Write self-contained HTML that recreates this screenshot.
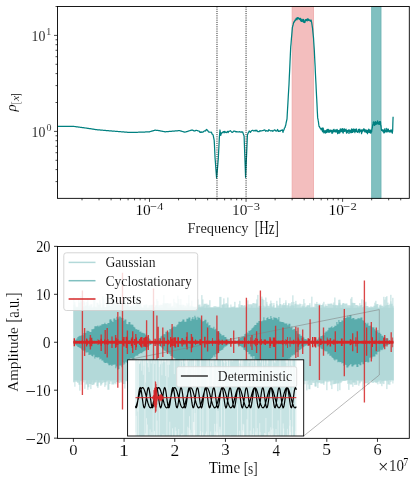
<!DOCTYPE html>
<html><head><meta charset="utf-8"><style>
html,body{margin:0;padding:0;background:#fff;}
svg{display:block;will-change:transform;}
</style></head><body>
<svg width="416" height="483" viewBox="0 0 416 483">
<rect width="416" height="483" fill="#fff"/>
<defs><clipPath id="ctop"><rect x="57.5" y="6.5" width="351.5" height="192"/></clipPath><clipPath id="cbot"><rect x="57.3" y="246.3" width="351.9" height="191.9"/></clipPath><clipPath id="cins"><rect x="127.6" y="359.8" width="176.1" height="76.2"/></clipPath></defs>
<rect x="292.12" y="6.5" width="21.42" height="192" fill="#f3bebe" stroke="#eeaaaa" stroke-width="0.8"/>
<rect x="371.66" y="6.5" width="9.36" height="192" fill="#80c0c0" stroke="#6bb3b3" stroke-width="0.8"/>
<path d="M57.50,126.40 L58.00,126.40 L58.50,126.40 L59.00,126.40 L59.50,126.40 L60.00,126.40 L60.50,126.40 L61.00,126.40 L61.50,126.40 L62.00,126.40 L62.50,126.40 L63.00,126.40 L63.50,126.40 L64.00,126.40 L64.50,126.40 L65.00,126.40 L65.50,126.40 L66.00,126.40 L66.50,126.40 L67.00,126.40 L67.50,126.40 L68.00,126.40 L68.50,126.40 L69.00,126.40 L69.50,126.40 L70.00,126.40 L70.50,126.40 L71.00,126.40 L71.50,126.40 L72.00,126.40 L72.50,126.40 L73.00,126.40 L73.50,126.40 L73.80,126.40 L74.00,126.43 L74.50,126.50 L75.00,126.56 L75.50,126.63 L76.00,126.70 L76.50,126.77 L77.00,126.84 L77.50,126.90 L78.00,126.97 L78.50,127.04 L79.00,127.11 L79.50,127.18 L80.00,127.25 L80.50,127.31 L81.00,127.38 L81.50,127.45 L82.00,127.52 L82.50,127.59 L83.00,127.65 L83.50,127.72 L84.00,127.79 L84.50,127.86 L85.00,127.93 L85.50,128.00 L86.00,128.06 L86.50,128.13 L87.00,128.20 L87.50,128.28 L88.00,128.35 L88.50,128.43 L89.00,128.51 L89.50,128.59 L90.00,128.66 L90.50,128.74 L91.00,128.82 L91.50,128.90 L92.00,128.97 L92.50,129.05 L93.00,129.13 L93.50,129.21 L94.00,129.28 L94.50,129.36 L95.00,129.44 L95.50,129.51 L96.00,129.59 L96.50,129.67 L96.70,129.70 L97.00,129.73 L97.50,129.77 L98.00,129.81 L98.50,129.86 L99.00,129.90 L99.50,129.94 L100.00,129.99 L100.50,130.03 L101.00,130.08 L101.50,130.12 L102.00,130.16 L102.50,130.21 L103.00,130.25 L103.50,130.29 L104.00,130.34 L104.50,130.38 L105.00,130.43 L105.50,130.47 L106.00,130.51 L106.50,130.56 L107.00,130.60 L107.50,130.64 L108.00,130.68 L108.50,130.72 L109.00,130.76 L109.50,130.80 L110.00,130.85 L110.50,130.89 L111.00,130.93 L111.50,130.97 L112.00,131.01 L112.50,131.05 L113.00,131.09 L113.50,131.13 L114.00,131.17 L114.50,131.21 L115.00,131.25 L115.50,131.30 L116.00,131.34 L116.50,131.38 L117.00,131.42 L117.50,131.46 L118.00,131.50 L118.50,131.54 L119.00,131.58 L119.50,131.62 L120.00,131.66 L120.50,131.70 L121.00,131.75 L121.50,131.79 L122.00,131.83 L122.50,131.87 L123.00,131.91 L123.50,131.95 L124.00,131.99 L124.50,132.03 L125.00,132.07 L125.50,132.11 L126.00,132.15 L126.50,132.20 L127.00,132.24 L127.50,132.28 L128.00,132.32 L128.50,132.36 L129.00,132.40 L129.50,132.39 L130.00,132.38 L130.50,132.38 L131.00,132.37 L131.50,132.36 L132.00,132.35 L132.50,132.34 L133.00,132.33 L133.50,132.32 L134.00,132.32 L134.50,132.31 L135.00,132.30 L135.50,132.29 L136.00,132.28 L136.50,132.28 L137.00,132.27 L137.50,132.26 L138.00,132.25 L138.50,132.24 L139.00,132.23 L139.50,132.22 L140.00,132.22 L140.50,132.21 L141.00,132.20 L141.50,132.18 L142.00,132.15 L142.50,132.13 L143.00,132.11 L143.50,132.08 L144.00,132.06 L144.50,132.04 L145.00,132.01 L145.50,131.99 L146.00,131.96 L146.50,131.94 L147.00,131.92 L147.50,131.89 L148.00,131.87 L148.50,131.85 L149.00,131.82 L149.50,131.80 L150.00,131.65 L150.50,131.51 L151.00,131.36 L151.50,131.22 L152.00,131.07 L152.50,130.93 L153.00,130.78 L153.50,130.64 L154.00,130.49 L154.50,130.35 L155.00,130.20 L155.50,130.24 L156.00,130.27 L156.50,130.31 L157.00,130.34 L157.50,130.38 L157.80,130.40 L158.00,130.44 L158.50,130.54 L159.00,130.63 L159.50,130.73 L160.00,130.83 L160.50,130.93 L161.00,131.02 L161.50,131.12 L162.00,131.22 L162.50,131.31 L163.00,131.41 L163.50,131.51 L164.00,131.61 L164.50,131.70 L165.00,131.80 L165.50,131.76 L166.00,131.72 L166.50,131.68 L167.00,131.63 L167.50,131.59 L168.00,131.55 L168.50,131.51 L169.00,131.47 L169.50,131.43 L170.00,131.38 L170.50,131.34 L171.00,131.30 L171.50,131.26 L172.00,131.22 L172.50,131.18 L173.00,131.13 L173.50,131.09 L174.00,131.05 L174.50,131.01 L175.00,130.97 L175.50,130.93 L176.00,130.88 L176.50,130.84 L177.00,130.80 L177.50,130.76 L178.00,130.72 L178.50,130.67 L179.00,130.63 L179.40,130.60 L179.50,130.63 L180.00,130.77 L180.50,130.92 L181.00,131.07 L181.50,131.21 L182.00,131.36 L182.50,131.50 L183.00,131.65 L183.50,131.79 L184.00,131.94 L184.50,132.08 L184.90,132.20 L185.00,132.17 L185.50,132.01 L186.00,131.86 L186.50,131.70 L187.00,131.55 L187.50,131.39 L188.00,131.24 L188.50,131.08 L189.00,130.93 L189.50,130.77 L190.00,130.62 L190.50,130.46 L191.00,130.31 L191.50,130.15 L192.00,130.00 L192.50,130.20 L193.00,130.40 L193.50,130.60 L194.00,130.80 L194.50,131.00 L195.00,130.81 L195.50,130.61 L196.00,130.42 L196.30,130.30 L196.50,130.36 L197.00,130.52 L197.50,130.68 L198.00,130.84 L198.50,131.00 L199.00,131.16 L199.50,131.32 L200.00,132.42 L200.80,132.31 L201.00,131.80 L201.60,132.29 L202.40,132.08 L203.00,132.10 L203.20,131.80 L204.00,131.21 L204.80,130.76 L205.60,131.02 L206.40,129.50 L206.40,129.46 L207.20,130.05 L208.00,130.91 L208.10,131.40 L208.80,132.03 L209.60,132.13 L210.40,132.25 L211.20,132.16 L211.80,133.10 L212.00,133.94 L212.80,134.44 L213.20,135.30 L213.60,137.27 L214.20,140.40 L214.40,143.94 L215.10,158.50 L215.20,159.54 L216.00,170.47 L216.60,178.00 L216.80,175.88 L217.60,166.99 L218.30,158.50 L218.40,156.34 L219.20,140.72 L219.40,136.70 L220.00,130.00 L220.00,130.28 L220.80,135.30 L220.90,134.60 L221.60,133.15 L221.90,132.70 L222.40,132.75 L223.20,131.58 L224.00,132.10 L224.00,132.87 L224.80,131.42 L225.60,132.47 L226.40,132.59 L227.20,131.70 L228.00,131.40 L228.00,132.57 L228.80,131.31 L229.60,131.11 L230.40,130.69 L231.20,131.56 L232.00,132.45 L232.80,132.17 L233.60,131.06 L234.40,131.15 L235.20,131.39 L236.00,131.90 L236.80,131.64 L237.60,131.92 L238.40,132.00 L239.20,131.68 L240.00,131.87 L240.80,132.05 L241.60,131.90 L242.40,132.29 L242.70,132.00 L243.20,133.61 L244.00,135.73 L244.10,136.00 L244.80,155.39 L245.60,177.30 L245.60,176.88 L246.40,158.89 L247.20,140.18 L247.40,135.30 L248.00,133.35 L248.80,131.84 L249.20,131.00 L249.60,131.38 L250.40,132.34 L251.20,131.10 L252.00,130.49 L252.80,130.25 L253.60,130.90 L254.40,130.82 L255.20,130.22 L256.00,130.97 L256.80,130.20 L257.60,131.55 L258.40,131.50 L259.20,131.51 L260.00,130.56 L260.80,131.14 L261.60,130.74 L262.40,130.58 L263.20,130.59 L264.00,130.01 L264.80,129.91 L265.60,131.24 L266.40,130.64 L267.20,130.87 L268.00,131.33 L268.80,129.68 L269.60,130.23 L270.40,130.80 L271.20,130.92 L272.00,130.44 L272.80,131.28 L273.60,130.77 L274.40,129.91 L275.20,130.06 L276.00,131.09 L276.80,130.88 L277.60,129.45 L278.40,131.39 L279.20,130.92 L280.00,131.36 L280.80,130.31 L281.60,130.35 L282.40,129.84 L283.00,132.29 L283.35,130.38 L283.70,130.50 L283.70,130.05 L284.05,129.66 L284.40,128.23 L284.75,127.73 L285.10,127.26 L285.45,125.70 L285.60,125.70 L285.80,124.84 L286.15,122.75 L286.50,121.24 L286.85,119.58 L287.00,119.00 L287.20,115.38 L287.55,109.24 L287.90,103.34 L288.25,97.07 L288.60,90.93 L288.95,85.25 L289.00,84.40 L289.30,77.38 L289.65,70.18 L290.00,62.32 L290.35,54.57 L290.70,47.20 L290.70,47.04 L291.05,43.57 L291.40,38.81 L291.75,35.09 L292.10,30.83 L292.40,27.40 L292.45,27.38 L292.80,25.81 L293.15,24.69 L293.50,23.14 L293.80,22.00 L293.85,21.91 L294.20,21.59 L294.55,21.84 L294.90,20.14 L295.25,20.36 L295.60,20.00 L295.60,20.46 L295.95,19.00 L296.30,18.24 L296.65,19.21 L297.00,19.78 L297.35,17.69 L297.70,17.75 L298.00,18.30 L298.05,17.53 L298.40,18.77 L298.75,18.11 L299.10,18.34 L299.45,19.43 L299.80,18.67 L300.00,19.60 L300.18,18.71 L300.36,18.63 L300.54,18.29 L300.72,20.96 L300.90,19.53 L301.00,19.80 L301.08,19.82 L301.26,20.06 L301.44,20.08 L301.62,21.48 L301.80,19.52 L301.98,19.25 L302.16,19.74 L302.34,19.61 L302.52,21.17 L302.70,21.32 L302.88,20.17 L303.06,19.97 L303.24,20.80 L303.42,22.12 L303.60,19.27 L303.78,21.71 L303.96,20.69 L304.14,22.27 L304.32,20.89 L304.50,21.54 L304.60,21.80 L304.68,21.05 L304.86,22.55 L305.04,22.01 L305.22,21.00 L305.40,20.52 L305.58,19.66 L305.76,20.56 L305.94,20.66 L306.12,20.47 L306.30,20.32 L306.48,19.45 L306.66,20.04 L306.84,19.91 L307.02,20.69 L307.20,20.94 L307.38,19.39 L307.56,18.80 L307.60,19.30 L307.74,18.96 L307.92,18.99 L308.10,19.58 L308.28,19.01 L308.46,20.28 L308.64,19.89 L308.82,20.26 L309.00,20.07 L309.18,19.80 L309.36,19.76 L309.54,20.38 L309.72,20.27 L309.90,20.94 L310.08,20.89 L310.26,20.05 L310.44,21.17 L310.62,20.30 L310.80,20.92 L310.98,21.26 L311.16,20.13 L311.34,21.76 L311.50,21.80 L311.52,21.81 L311.70,22.74 L311.88,23.89 L312.06,24.98 L312.24,26.31 L312.42,27.34 L312.50,28.00 L312.60,28.64 L312.78,30.87 L312.96,32.64 L313.14,34.36 L313.32,36.07 L313.50,38.00 L313.50,37.50 L313.68,40.84 L313.86,43.47 L314.04,46.19 L314.22,48.91 L314.30,50.00 L314.40,51.97 L314.58,55.92 L314.76,59.54 L314.94,63.15 L315.12,66.32 L315.30,70.62 L315.48,74.49 L315.66,78.12 L315.84,81.57 L316.02,84.71 L316.20,89.15 L316.38,92.50 L316.50,95.00 L316.56,96.29 L316.74,99.27 L316.92,102.86 L317.10,106.59 L317.28,110.70 L317.46,113.74 L317.60,116.60 L317.64,117.39 L317.82,118.56 L318.00,119.25 L318.18,120.42 L318.36,121.32 L318.54,122.70 L318.72,124.25 L318.90,125.45 L319.00,126.00 L319.08,126.43 L319.26,126.19 L319.44,126.70 L319.62,127.23 L319.80,127.48 L319.98,127.92 L320.16,128.02 L320.34,128.10 L320.52,128.60 L320.70,128.48 L320.88,128.58 L321.06,129.78 L321.20,129.60 L321.24,129.85 L321.42,128.58 L321.60,129.66 L321.78,129.63 L321.96,129.59 L322.14,127.96 L322.32,130.12 L322.50,131.55 L322.68,131.15 L322.86,130.26 L323.00,131.00 L323.04,131.79 L323.22,128.10 L323.40,130.87 L323.58,131.57 L323.76,131.72 L323.94,132.79 L324.12,132.19 L324.30,131.33 L324.48,131.32 L324.66,131.83 L324.84,130.43 L325.02,130.96 L325.20,131.95 L325.38,133.06 L325.56,130.83 L325.74,130.95 L325.92,131.21 L326.10,132.41 L326.28,130.97 L326.46,132.54 L326.64,129.99 L326.82,130.80 L327.00,130.79 L327.18,131.83 L327.36,132.10 L327.54,129.42 L327.72,130.04 L327.90,131.35 L328.08,130.31 L328.26,129.40 L328.44,132.09 L328.62,131.52 L328.80,131.52 L328.98,130.50 L329.16,132.08 L329.34,130.75 L329.52,132.15 L329.70,130.04 L329.88,130.10 L330.06,131.21 L330.24,130.26 L330.42,131.71 L330.60,131.27 L330.78,130.03 L330.96,131.08 L331.14,130.63 L331.32,131.96 L331.50,130.34 L331.68,130.54 L331.86,132.27 L332.04,133.35 L332.22,133.10 L332.40,131.07 L332.58,131.23 L332.76,132.61 L332.94,130.87 L333.12,129.97 L333.30,131.12 L333.48,131.47 L333.66,130.13 L333.84,129.27 L334.02,129.49 L334.20,131.70 L334.38,130.20 L334.56,130.85 L334.74,131.22 L334.92,131.65 L335.10,130.65 L335.28,131.52 L335.46,130.07 L335.64,130.62 L335.82,129.92 L336.00,132.19 L336.18,130.97 L336.36,130.22 L336.54,130.63 L336.72,130.77 L336.90,131.74 L337.08,129.32 L337.26,129.91 L337.44,130.60 L337.62,133.66 L337.80,132.00 L337.98,130.88 L338.16,131.75 L338.34,133.16 L338.52,130.75 L338.70,130.62 L338.88,132.27 L339.06,131.52 L339.24,131.70 L339.42,130.47 L339.60,133.02 L339.78,132.80 L339.96,131.59 L340.14,131.72 L340.32,128.87 L340.50,131.67 L340.68,130.80 L340.86,131.46 L341.04,131.72 L341.22,130.64 L341.40,129.22 L341.58,131.39 L341.76,130.22 L341.94,130.65 L342.12,130.37 L342.30,130.64 L342.48,128.58 L342.66,132.28 L342.84,131.27 L343.02,132.17 L343.20,133.08 L343.38,131.02 L343.56,129.11 L343.74,130.06 L343.92,129.73 L344.10,130.47 L344.28,131.08 L344.46,128.90 L344.64,131.36 L344.82,129.41 L345.00,131.31 L345.18,130.89 L345.36,130.67 L345.54,130.92 L345.72,130.43 L345.90,130.36 L346.08,129.23 L346.26,130.97 L346.44,132.94 L346.62,133.08 L346.80,132.39 L346.98,131.74 L347.16,130.29 L347.34,132.51 L347.52,130.94 L347.70,130.93 L347.88,130.69 L348.06,131.10 L348.24,130.54 L348.42,130.91 L348.60,129.86 L348.78,130.61 L348.96,133.39 L349.14,130.93 L349.32,130.75 L349.50,131.56 L349.68,131.74 L349.86,129.83 L350.04,130.78 L350.22,131.96 L350.40,131.28 L350.58,131.13 L350.76,132.63 L350.94,130.29 L351.12,131.09 L351.30,130.45 L351.48,132.56 L351.66,128.95 L351.84,130.30 L352.02,130.44 L352.20,131.70 L352.38,131.64 L352.56,132.46 L352.74,129.35 L352.92,131.79 L353.10,130.69 L353.28,130.30 L353.46,131.57 L353.64,130.03 L353.82,128.82 L354.00,130.61 L354.18,129.43 L354.36,130.32 L354.54,131.39 L354.72,131.33 L354.90,132.67 L355.08,130.79 L355.26,129.39 L355.44,130.21 L355.62,130.03 L355.80,129.72 L355.98,131.46 L356.16,130.32 L356.34,128.92 L356.52,131.73 L356.70,130.88 L356.88,131.37 L357.06,131.11 L357.24,131.66 L357.42,131.04 L357.60,132.30 L357.78,131.45 L357.96,131.41 L358.14,131.43 L358.32,129.47 L358.50,130.83 L358.68,130.73 L358.86,131.22 L359.04,129.57 L359.22,132.72 L359.40,131.11 L359.58,129.73 L359.76,129.21 L359.94,130.70 L360.12,130.91 L360.30,130.25 L360.48,131.10 L360.66,130.33 L360.84,131.58 L361.02,130.24 L361.20,130.96 L361.38,132.03 L361.56,133.70 L361.74,129.94 L361.92,130.51 L362.10,130.12 L362.28,131.82 L362.46,129.79 L362.64,130.49 L362.82,130.97 L363.00,129.97 L363.18,129.99 L363.36,130.50 L363.54,128.79 L363.72,129.48 L363.90,130.57 L364.08,131.16 L364.26,130.80 L364.44,129.14 L364.62,130.51 L364.80,131.84 L364.98,131.58 L365.16,130.92 L365.34,130.07 L365.52,131.66 L365.70,130.39 L365.88,129.77 L366.06,130.16 L366.24,132.52 L366.42,131.23 L366.60,132.22 L366.78,130.50 L366.96,131.99 L367.14,130.37 L367.32,130.83 L367.50,133.61 L367.68,131.81 L367.86,130.47 L368.04,130.91 L368.22,131.34 L368.40,132.27 L368.58,130.49 L368.76,129.17 L368.94,130.71 L369.12,131.02 L369.30,131.12 L369.48,132.38 L369.66,131.33 L369.84,131.85 L370.02,129.84 L370.20,131.91 L370.38,133.20 L370.56,131.81 L370.74,131.27 L370.92,131.16 L371.10,132.88 L371.28,130.03 L371.46,130.88 L371.60,131.00 L371.64,131.59 L371.82,129.51 L372.00,129.44 L372.18,127.98 L372.36,127.55 L372.54,126.44 L372.72,124.53 L372.90,124.86 L373.08,124.96 L373.26,122.17 L373.30,123.00 L373.44,123.70 L373.62,121.88 L373.80,123.19 L373.98,121.89 L374.16,124.19 L374.34,125.43 L374.52,125.12 L374.70,122.77 L374.88,123.78 L375.06,123.13 L375.24,123.11 L375.42,124.63 L375.60,121.61 L375.78,124.11 L375.96,122.95 L376.14,124.48 L376.32,123.20 L376.50,122.29 L376.68,123.29 L376.86,123.77 L377.04,123.04 L377.22,123.51 L377.40,122.45 L377.58,120.76 L377.76,123.95 L377.94,123.73 L378.12,123.16 L378.30,123.07 L378.48,124.09 L378.66,122.52 L378.84,122.26 L379.02,122.80 L379.20,124.25 L379.38,121.54 L379.56,124.25 L379.74,122.33 L379.92,121.84 L380.10,124.32 L380.28,122.90 L380.46,121.63 L380.60,123.00 L380.64,124.28 L380.82,125.90 L381.00,125.55 L381.18,127.78 L381.36,129.45 L381.54,129.37 L381.60,130.50 L381.72,130.47 L381.90,129.95 L382.08,130.01 L382.26,130.60 L382.44,130.57 L382.62,129.95 L382.80,130.11 L382.98,131.73 L383.16,130.80 L383.34,131.51 L383.52,131.85 L383.70,131.21 L383.88,132.99 L384.06,129.75 L384.24,131.47 L384.42,130.29 L384.60,132.58 L384.78,132.43 L384.96,128.60 L385.14,129.64 L385.32,131.37 L385.50,131.51 L385.68,131.46 L385.86,130.62 L386.04,131.18 L386.22,131.40 L386.40,130.64 L386.58,131.81 L386.76,128.36 L386.94,131.41 L387.12,129.67 L387.30,131.77 L387.48,130.53 L387.66,129.84 L387.84,131.18 L388.02,129.83 L388.20,129.84 L388.38,129.16 L388.56,130.79 L388.74,131.35 L388.92,131.91 L389.10,130.69 L389.28,131.95 L389.46,130.88 L389.64,130.77 L389.82,131.48 L390.00,131.99 L390.18,130.53 L390.36,130.64 L390.54,130.74 L390.72,131.00 L390.90,129.98 L391.08,132.01 L391.26,130.52 L391.44,131.43 L391.62,130.09 L391.80,131.34 L391.98,131.38 L392.16,130.54 L392.34,133.11 L392.52,131.39 L392.60,131.00 L392.70,129.17 L392.88,122.35 L393.10,116.80" fill="none" stroke="#008080" stroke-width="1.25" stroke-linejoin="round" clip-path="url(#ctop)"/>
<line x1="216.99" y1="6.5" x2="216.99" y2="198.35" stroke="#000" stroke-width="0.9" stroke-dasharray="1 1.2"/>
<line x1="246.05" y1="6.5" x2="246.05" y2="198.35" stroke="#000" stroke-width="0.9" stroke-dasharray="1 1.2"/>
<rect x="57.5" y="6.5" width="351.80" height="191.85" fill="none" stroke="#000" stroke-width="0.9"/>
<path d="M149.50,198.35 v3.5 M246.05,198.35 v3.5 M342.60,198.35 v3.5 M82.01,198.35 v2 M99.02,198.35 v2 M111.08,198.35 v2 M120.44,198.35 v2 M128.08,198.35 v2 M134.54,198.35 v2 M140.14,198.35 v2 M145.08,198.35 v2 M178.56,198.35 v2 M195.57,198.35 v2 M207.63,198.35 v2 M216.99,198.35 v2 M224.63,198.35 v2 M231.09,198.35 v2 M236.69,198.35 v2 M241.63,198.35 v2 M275.11,198.35 v2 M292.12,198.35 v2 M304.18,198.35 v2 M313.54,198.35 v2 M321.18,198.35 v2 M327.64,198.35 v2 M333.24,198.35 v2 M338.18,198.35 v2 M371.66,198.35 v2 M388.67,198.35 v2 M400.73,198.35 v2 M57.5,131.40 h-3.5 M57.5,35.40 h-3.5 M57.5,181.60 h-2 M57.5,169.60 h-2 M57.5,160.30 h-2 M57.5,152.70 h-2 M57.5,146.27 h-2 M57.5,140.70 h-2 M57.5,135.79 h-2 M57.5,102.50 h-2 M57.5,85.60 h-2 M57.5,73.60 h-2 M57.5,64.30 h-2 M57.5,56.70 h-2 M57.5,50.27 h-2 M57.5,44.70 h-2 M57.5,39.79 h-2 M57.5,6.50 h-2" stroke="#000" stroke-width="0.7" fill="none"/>
<text transform="matrix(0.13829 0 0 0.15259 31.525 40.547)" style="font-family:'Liberation Serif', serif;font-size:100px;" fill="#000" stroke="#fff" stroke-width="0.825" >10</text>
<text transform="matrix(0.09859 0 0 0.10000 46.162 34.800)" style="font-family:'Liberation Serif', serif;font-size:100px;" fill="#000" stroke="#fff" stroke-width="1.209" >1</text>
<text transform="matrix(0.13829 0 0 0.15407 31.525 136.646)" style="font-family:'Liberation Serif', serif;font-size:100px;" fill="#000" stroke="#fff" stroke-width="0.821" >10</text>
<text transform="matrix(0.10000 0 0 0.10667 46.600 131.293)" style="font-family:'Liberation Serif', serif;font-size:100px;" fill="#000" stroke="#fff" stroke-width="1.161" >0</text>
<text transform="matrix(0.15429 0 0 0.14815 135.389 214.852)" style="font-family:'Liberation Serif', serif;font-size:100px;" fill="#000" stroke="#fff" stroke-width="0.794" >10</text>
<text transform="matrix(0.12200 0 0 0.10606 150.290 210.100)" style="font-family:'Liberation Serif', serif;font-size:100px;" fill="#000" stroke="#fff" stroke-width="1.052" >−4</text>
<text transform="matrix(0.15429 0 0 0.14815 231.939 214.852)" style="font-family:'Liberation Serif', serif;font-size:100px;" fill="#000" stroke="#fff" stroke-width="0.794" >10</text>
<text transform="matrix(0.12513 0 0 0.10448 246.824 209.996)" style="font-family:'Liberation Serif', serif;font-size:100px;" fill="#000" stroke="#fff" stroke-width="1.045" >−3</text>
<text transform="matrix(0.15429 0 0 0.14815 328.489 214.852)" style="font-family:'Liberation Serif', serif;font-size:100px;" fill="#000" stroke="#fff" stroke-width="0.794" >10</text>
<text transform="matrix(0.12708 0 0 0.10606 343.365 210.100)" style="font-family:'Liberation Serif', serif;font-size:100px;" fill="#000" stroke="#fff" stroke-width="1.029" >−2</text>
<text transform="matrix(0.14456 0 0 0.15402 187.566 232.689)" style="font-family:'Liberation Serif', serif;font-size:100px;" fill="#000" stroke="#fff" stroke-width="0.804" >Frequency</text>
<text transform="matrix(0.13116 0 0 0.17952 254.816 233.777)" style="font-family:'Liberation Serif', serif;font-size:100px;" fill="#000" stroke="#fff" stroke-width="0.773" >[Hz]</text>
<text transform="matrix(0 -0.15158 0.14745 0 15.930 111.421)" style="font-family:'Liberation Serif', serif;font-size:100px;font-style:italic;" fill="#000" stroke="#fff" stroke-width="0.803">ρ</text>
<text transform="matrix(0 -0.08636 0.13012 0 20.243 104.148)" style="font-family:'Liberation Serif', serif;font-size:100px;" fill="#000" stroke="#fff" stroke-width="1.109">[</text>
<text transform="matrix(0 -0.08444 0.13012 0 20.243 96.296)" style="font-family:'Liberation Serif', serif;font-size:100px;" fill="#000" stroke="#fff" stroke-width="1.119">]</text>
<text transform="matrix(0 -0.12000 0.10217 0 19.100 101.120)" style="font-family:'Liberation Serif', serif;font-size:100px;font-style:italic;" fill="#000" stroke="#fff" stroke-width="1.080">x</text>
<g clip-path="url(#cbot)">
<path d="M73.4,342.25 L73.4,304.73 L75.4,304.73 L75.4,306.74 L78.4,306.74 L78.4,302.79 L80.4,302.79 L80.4,301.25 L81.4,301.25 L81.4,301.94 L82.4,301.94 L82.4,306.40 L85.4,306.40 L85.4,305.48 L87.4,305.48 L87.4,303.51 L88.4,303.51 L88.4,306.20 L90.4,306.20 L90.4,304.23 L92.4,304.23 L92.4,307.16 L93.4,307.16 L93.4,306.29 L94.4,306.29 L94.4,306.65 L96.4,306.65 L96.4,302.78 L98.4,302.78 L98.4,305.09 L100.4,305.09 L100.4,307.49 L102.4,307.49 L102.4,304.68 L104.4,304.68 L104.4,307.05 L106.4,307.05 L106.4,303.07 L107.4,303.07 L107.4,303.97 L108.4,303.97 L108.4,306.33 L111.4,306.33 L111.4,297.78 L112.4,297.78 L112.4,300.26 L113.4,300.26 L113.4,300.01 L115.4,300.01 L115.4,305.53 L117.4,305.53 L117.4,303.46 L118.4,303.46 L118.4,304.47 L120.4,304.47 L120.4,300.89 L123.4,300.89 L123.4,303.27 L124.4,303.27 L124.4,305.57 L127.4,305.57 L127.4,303.17 L128.4,303.17 L128.4,306.27 L130.4,306.27 L130.4,306.16 L131.4,306.16 L131.4,305.56 L133.4,305.56 L133.4,306.46 L135.4,306.46 L135.4,299.79 L137.4,299.79 L137.4,303.67 L138.4,303.67 L138.4,303.26 L141.4,303.26 L141.4,306.57 L142.4,306.57 L142.4,307.66 L144.4,307.66 L144.4,305.69 L145.4,305.69 L145.4,304.38 L147.4,304.38 L147.4,307.73 L148.4,307.73 L148.4,305.30 L150.4,305.30 L150.4,304.70 L153.4,304.70 L153.4,306.77 L155.4,306.77 L155.4,304.90 L157.4,304.90 L157.4,306.85 L158.4,306.85 L158.4,305.21 L160.4,305.21 L160.4,304.40 L161.4,304.40 L161.4,305.12 L162.4,305.12 L162.4,303.20 L165.4,303.20 L165.4,303.49 L166.4,303.49 L166.4,302.90 L168.4,302.90 L168.4,303.43 L170.4,303.43 L170.4,303.36 L171.4,303.36 L171.4,306.40 L172.4,306.40 L172.4,307.65 L174.4,307.65 L174.4,307.30 L175.4,307.30 L175.4,303.21 L178.4,303.21 L178.4,304.76 L180.4,304.76 L180.4,305.12 L181.4,305.12 L181.4,306.55 L182.4,306.55 L182.4,304.84 L184.4,304.84 L184.4,307.62 L186.4,307.62 L186.4,303.09 L187.4,303.09 L187.4,304.53 L188.4,304.53 L188.4,303.04 L189.4,303.04 L189.4,306.41 L190.4,306.41 L190.4,305.58 L191.4,305.58 L191.4,306.35 L193.4,306.35 L193.4,306.75 L196.4,306.75 L196.4,306.60 L197.4,306.60 L197.4,299.24 L198.4,299.24 L198.4,306.68 L200.4,306.68 L200.4,306.49 L203.4,306.49 L203.4,303.84 L206.4,303.84 L206.4,305.21 L207.4,305.21 L207.4,304.66 L209.4,304.66 L209.4,307.32 L212.4,307.32 L212.4,307.20 L213.4,307.20 L213.4,306.24 L216.4,306.24 L216.4,306.71 L217.4,306.71 L217.4,306.85 L220.4,306.85 L220.4,307.69 L221.4,307.69 L221.4,304.75 L223.4,304.75 L223.4,303.80 L224.4,303.80 L224.4,304.28 L225.4,304.28 L225.4,303.16 L227.4,303.16 L227.4,304.62 L228.4,304.62 L228.4,307.49 L230.4,307.49 L230.4,304.56 L231.4,304.56 L231.4,306.65 L233.4,306.65 L233.4,306.45 L235.4,306.45 L235.4,307.72 L236.4,307.72 L236.4,307.49 L238.4,307.49 L238.4,304.29 L239.4,304.29 L239.4,306.72 L240.4,306.72 L240.4,304.88 L242.4,304.88 L242.4,305.29 L243.4,305.29 L243.4,305.78 L244.4,305.78 L244.4,304.99 L245.4,304.99 L245.4,306.48 L247.4,306.48 L247.4,304.27 L248.4,304.27 L248.4,304.53 L249.4,304.53 L249.4,304.15 L252.4,304.15 L252.4,302.89 L254.4,302.89 L254.4,303.57 L257.4,303.57 L257.4,307.26 L258.4,307.26 L258.4,305.69 L260.4,305.69 L260.4,305.95 L261.4,305.95 L261.4,298.80 L263.4,298.80 L263.4,305.46 L264.4,305.46 L264.4,306.41 L266.4,306.41 L266.4,304.28 L267.4,304.28 L267.4,305.85 L269.4,305.85 L269.4,303.77 L271.4,303.77 L271.4,306.40 L273.4,306.40 L273.4,303.06 L274.4,303.06 L274.4,307.66 L276.4,307.66 L276.4,303.96 L277.4,303.96 L277.4,305.46 L279.4,305.46 L279.4,303.97 L280.4,303.97 L280.4,304.04 L281.4,304.04 L281.4,305.37 L284.4,305.37 L284.4,304.91 L285.4,304.91 L285.4,300.26 L286.4,300.26 L286.4,305.21 L288.4,305.21 L288.4,303.18 L289.4,303.18 L289.4,306.33 L290.4,306.33 L290.4,303.18 L291.4,303.18 L291.4,305.30 L293.4,305.30 L293.4,305.48 L294.4,305.48 L294.4,303.90 L295.4,303.90 L295.4,303.59 L296.4,303.59 L296.4,304.43 L299.4,304.43 L299.4,303.46 L300.4,303.46 L300.4,307.55 L301.4,307.55 L301.4,306.26 L304.4,306.26 L304.4,303.26 L305.4,303.26 L305.4,306.78 L307.4,306.78 L307.4,305.27 L310.4,305.27 L310.4,307.30 L312.4,307.30 L312.4,306.66 L314.4,306.66 L314.4,303.56 L315.4,303.56 L315.4,304.11 L317.4,304.11 L317.4,306.00 L318.4,306.00 L318.4,303.77 L320.4,303.77 L320.4,304.90 L322.4,304.90 L322.4,303.55 L323.4,303.55 L323.4,306.49 L325.4,306.49 L325.4,306.00 L327.4,306.00 L327.4,303.76 L330.4,303.76 L330.4,303.43 L332.4,303.43 L332.4,304.68 L334.4,304.68 L334.4,305.44 L335.4,305.44 L335.4,305.28 L338.4,305.28 L338.4,303.34 L339.4,303.34 L339.4,302.81 L340.4,302.81 L340.4,304.72 L342.4,304.72 L342.4,302.95 L344.4,302.95 L344.4,303.72 L345.4,303.72 L345.4,303.56 L347.4,303.56 L347.4,305.34 L350.4,305.34 L350.4,305.52 L351.4,305.52 L351.4,302.80 L353.4,302.80 L353.4,302.99 L354.4,302.99 L354.4,302.89 L355.4,302.89 L355.4,305.04 L357.4,305.04 L357.4,306.33 L360.4,306.33 L360.4,305.12 L362.4,305.12 L362.4,306.95 L363.4,306.95 L363.4,306.16 L365.4,306.16 L365.4,306.11 L368.4,306.11 L368.4,307.24 L370.4,307.24 L370.4,306.34 L371.4,306.34 L371.4,306.70 L373.4,306.70 L373.4,305.72 L375.4,305.72 L375.4,304.61 L376.4,304.61 L376.4,304.05 L378.4,304.05 L378.4,307.65 L379.4,307.65 L379.4,305.81 L382.4,305.81 L382.4,305.76 L383.4,305.76 L383.4,306.63 L384.4,306.63 L384.4,305.49 L386.4,305.49 L386.4,304.99 L389.4,304.99 L389.4,303.67 L390.4,303.67 L390.4,301.37 L391.4,301.37 L391.4,304.17 L392.4,304.17 L392.4,306.33 L393.4,306.33 L393.4,305.62 L393.7,305.62 L393.7,342.25 L393.7,380.82 L393.4,380.82 L393.4,383.55 L392.4,383.55 L392.4,380.29 L391.4,380.29 L391.4,381.96 L390.4,381.96 L390.4,380.28 L389.4,380.28 L389.4,384.40 L387.4,384.40 L387.4,381.15 L386.4,381.15 L386.4,380.68 L384.4,380.68 L384.4,380.92 L382.4,380.92 L382.4,381.58 L381.4,381.58 L381.4,383.86 L379.4,383.86 L379.4,381.51 L378.4,381.51 L378.4,381.90 L377.4,381.90 L377.4,381.96 L374.4,381.96 L374.4,382.72 L371.4,382.72 L371.4,381.62 L369.4,381.62 L369.4,382.29 L368.4,382.29 L368.4,384.27 L367.4,384.27 L367.4,383.24 L364.4,383.24 L364.4,384.31 L363.4,384.31 L363.4,380.44 L362.4,380.44 L362.4,381.60 L360.4,381.60 L360.4,382.79 L359.4,382.79 L359.4,380.63 L357.4,380.63 L357.4,384.77 L355.4,384.77 L355.4,382.46 L352.4,382.46 L352.4,384.54 L349.4,384.54 L349.4,383.20 L348.4,383.20 L348.4,380.30 L346.4,380.30 L346.4,380.69 L345.4,380.69 L345.4,380.95 L342.4,380.95 L342.4,381.64 L340.4,381.64 L340.4,381.49 L339.4,381.49 L339.4,383.54 L336.4,383.54 L336.4,383.66 L334.4,383.66 L334.4,384.22 L332.4,384.22 L332.4,380.38 L331.4,380.38 L331.4,381.47 L328.4,381.47 L328.4,382.23 L327.4,382.23 L327.4,381.60 L324.4,381.60 L324.4,383.33 L323.4,383.33 L323.4,383.48 L321.4,383.48 L321.4,383.64 L320.4,383.64 L320.4,382.69 L318.4,382.69 L318.4,383.52 L317.4,383.52 L317.4,381.68 L316.4,381.68 L316.4,386.41 L314.4,386.41 L314.4,382.89 L313.4,382.89 L313.4,381.56 L312.4,381.56 L312.4,384.89 L310.4,384.89 L310.4,389.36 L308.4,389.36 L308.4,384.56 L307.4,384.56 L307.4,380.90 L306.4,380.90 L306.4,381.05 L303.4,381.05 L303.4,380.31 L302.4,380.31 L302.4,381.69 L301.4,381.69 L301.4,383.67 L299.4,383.67 L299.4,381.21 L298.4,381.21 L298.4,380.83 L297.4,380.83 L297.4,381.42 L296.4,381.42 L296.4,380.79 L295.4,380.79 L295.4,380.75 L294.4,380.75 L294.4,381.59 L292.4,381.59 L292.4,380.62 L290.4,380.62 L290.4,380.28 L288.4,380.28 L288.4,383.01 L287.4,383.01 L287.4,382.11 L286.4,382.11 L286.4,385.16 L284.4,385.16 L284.4,381.71 L281.4,381.71 L281.4,384.18 L278.4,384.18 L278.4,384.49 L276.4,384.49 L276.4,383.56 L275.4,383.56 L275.4,385.11 L274.4,385.11 L274.4,383.21 L271.4,383.21 L271.4,380.79 L270.4,380.79 L270.4,381.95 L269.4,381.95 L269.4,382.21 L268.4,382.21 L268.4,384.02 L265.4,384.02 L265.4,383.62 L264.4,383.62 L264.4,384.96 L263.4,384.96 L263.4,384.53 L262.4,384.53 L262.4,385.14 L261.4,385.14 L261.4,380.58 L260.4,380.58 L260.4,381.42 L259.4,381.42 L259.4,380.76 L257.4,380.76 L257.4,383.52 L256.4,383.52 L256.4,381.25 L253.4,381.25 L253.4,380.77 L251.4,380.77 L251.4,384.85 L250.4,384.85 L250.4,381.64 L247.4,381.64 L247.4,380.74 L246.4,380.74 L246.4,382.73 L245.4,382.73 L245.4,389.75 L242.4,389.75 L242.4,381.30 L239.4,381.30 L239.4,386.88 L238.4,386.88 L238.4,381.50 L236.4,381.50 L236.4,381.38 L233.4,381.38 L233.4,381.61 L232.4,381.61 L232.4,384.79 L230.4,384.79 L230.4,384.81 L227.4,384.81 L227.4,383.64 L226.4,383.64 L226.4,382.36 L225.4,382.36 L225.4,383.90 L224.4,383.90 L224.4,385.06 L223.4,385.06 L223.4,382.91 L221.4,382.91 L221.4,381.53 L220.4,381.53 L220.4,383.95 L218.4,383.95 L218.4,382.21 L217.4,382.21 L217.4,383.36 L216.4,383.36 L216.4,384.38 L215.4,384.38 L215.4,382.31 L213.4,382.31 L213.4,382.87 L212.4,382.87 L212.4,383.20 L210.4,383.20 L210.4,384.38 L209.4,384.38 L209.4,383.25 L208.4,383.25 L208.4,380.63 L205.4,380.63 L205.4,384.18 L204.4,384.18 L204.4,381.90 L203.4,381.90 L203.4,380.54 L202.4,380.54 L202.4,383.85 L199.4,383.85 L199.4,381.44 L196.4,381.44 L196.4,382.41 L195.4,382.41 L195.4,380.29 L193.4,380.29 L193.4,382.80 L192.4,382.80 L192.4,383.31 L191.4,383.31 L191.4,381.26 L190.4,381.26 L190.4,384.38 L188.4,384.38 L188.4,382.74 L185.4,382.74 L185.4,380.53 L182.4,380.53 L182.4,381.46 L179.4,381.46 L179.4,383.40 L176.4,383.40 L176.4,381.30 L175.4,381.30 L175.4,387.51 L173.4,387.51 L173.4,384.37 L171.4,384.37 L171.4,382.31 L170.4,382.31 L170.4,383.32 L167.4,383.32 L167.4,382.34 L166.4,382.34 L166.4,381.52 L165.4,381.52 L165.4,384.19 L163.4,384.19 L163.4,384.00 L161.4,384.00 L161.4,383.87 L160.4,383.87 L160.4,381.94 L159.4,381.94 L159.4,382.32 L157.4,382.32 L157.4,384.60 L155.4,384.60 L155.4,380.44 L154.4,380.44 L154.4,388.53 L153.4,388.53 L153.4,382.84 L151.4,382.84 L151.4,382.27 L149.4,382.27 L149.4,381.88 L148.4,381.88 L148.4,381.47 L147.4,381.47 L147.4,384.26 L146.4,384.26 L146.4,381.02 L144.4,381.02 L144.4,382.04 L143.4,382.04 L143.4,382.76 L142.4,382.76 L142.4,382.79 L139.4,382.79 L139.4,387.28 L138.4,387.28 L138.4,382.57 L136.4,382.57 L136.4,381.89 L135.4,381.89 L135.4,381.39 L133.4,381.39 L133.4,383.49 L132.4,383.49 L132.4,381.53 L131.4,381.53 L131.4,381.27 L130.4,381.27 L130.4,382.54 L129.4,382.54 L129.4,380.66 L128.4,380.66 L128.4,381.26 L125.4,381.26 L125.4,383.96 L122.4,383.96 L122.4,381.70 L120.4,381.70 L120.4,383.10 L118.4,383.10 L118.4,381.91 L116.4,381.91 L116.4,384.32 L115.4,384.32 L115.4,383.17 L114.4,383.17 L114.4,384.62 L111.4,384.62 L111.4,381.54 L110.4,381.54 L110.4,383.88 L109.4,383.88 L109.4,389.69 L107.4,389.69 L107.4,381.49 L106.4,381.49 L106.4,382.14 L103.4,382.14 L103.4,383.01 L102.4,383.01 L102.4,384.48 L101.4,384.48 L101.4,384.52 L100.4,384.52 L100.4,382.54 L98.4,382.54 L98.4,386.20 L96.4,386.20 L96.4,382.20 L94.4,382.20 L94.4,384.12 L93.4,384.12 L93.4,385.11 L91.4,385.11 L91.4,384.00 L89.4,384.00 L89.4,387.26 L87.4,387.26 L87.4,384.43 L85.4,384.43 L85.4,380.35 L82.4,380.35 L82.4,384.65 L81.4,384.65 L81.4,381.26 L80.4,381.26 L80.4,384.71 L78.4,384.71 L78.4,382.67 L77.4,382.67 L77.4,381.64 L75.4,381.64 L75.4,386.74 L74.4,386.74 L74.4,381.74 L73.4,381.74 Z" fill="#b3d9d9" fill-opacity="0.8"/>
<rect x="73.4" y="307.75" width="320.3" height="72.50" fill="#b3d9d9"/>
<path d="M73.9,307.8 V297.2 M73.9,380.2 V382.4 M74.9,307.8 V302.2 M77.9,380.2 V382.5 M78.9,307.8 V298.3 M79.9,380.2 V390.7 M80.9,307.8 V296.0 M83.9,307.8 V300.8 M83.9,380.2 V382.4 M84.9,307.8 V302.4 M84.9,380.2 V388.8 M85.9,307.8 V305.7 M86.9,307.8 V302.0 M86.9,380.2 V383.1 M87.9,307.8 V298.2 M87.9,380.2 V389.8 M89.9,307.8 V304.7 M89.9,380.2 V383.9 M90.9,380.2 V389.1 M91.9,380.2 V382.4 M93.9,307.8 V297.1 M93.9,380.2 V384.8 M94.9,307.8 V300.3 M94.9,380.2 V382.9 M97.9,380.2 V387.9 M98.9,307.8 V304.4 M98.9,380.2 V382.6 M99.9,307.8 V300.2 M100.9,307.8 V303.3 M100.9,380.2 V385.8 M102.9,307.8 V296.3 M103.9,307.8 V299.2 M104.9,380.2 V386.9 M105.9,380.2 V385.3 M106.9,307.8 V297.3 M107.9,307.8 V298.9 M108.9,307.8 V301.8 M109.9,307.8 V302.1 M111.9,307.8 V305.4 M115.9,307.8 V302.2 M116.9,380.2 V382.3 M117.9,307.8 V305.0 M119.9,307.8 V305.5 M121.9,380.2 V382.7 M123.9,307.8 V304.5 M124.9,307.8 V301.2 M124.9,380.2 V388.6 M125.9,307.8 V302.4 M127.9,307.8 V297.4 M127.9,380.2 V392.1 M130.9,380.2 V392.1 M131.9,380.2 V383.3 M133.9,307.8 V295.4 M133.9,380.2 V392.2 M135.9,307.8 V305.5 M135.9,380.2 V387.0 M137.9,307.8 V295.8 M137.9,380.2 V391.3 M138.9,380.2 V390.1 M141.9,380.2 V390.2 M142.9,380.2 V388.9 M143.9,307.8 V305.0 M143.9,380.2 V386.4 M144.9,307.8 V304.6 M144.9,380.2 V383.9 M145.9,380.2 V385.4 M146.9,380.2 V383.7 M148.9,380.2 V388.8 M149.9,380.2 V385.3 M151.9,307.8 V305.6 M153.9,307.8 V301.6 M154.9,380.2 V383.3 M155.9,307.8 V305.7 M155.9,380.2 V391.5 M156.9,307.8 V299.1 M157.9,307.8 V301.0 M157.9,380.2 V387.5 M161.9,380.2 V391.4 M163.9,307.8 V295.1 M163.9,380.2 V385.9 M164.9,307.8 V305.0 M165.9,307.8 V303.4 M165.9,380.2 V390.0 M166.9,307.8 V303.8 M168.9,380.2 V387.5 M170.9,380.2 V382.4 M172.9,307.8 V305.7 M173.9,307.8 V298.8 M173.9,380.2 V389.4 M174.9,307.8 V302.2 M174.9,380.2 V389.0 M175.9,380.2 V391.7 M176.9,380.2 V390.0 M177.9,307.8 V295.7 M177.9,380.2 V392.0 M178.9,307.8 V299.0 M178.9,380.2 V384.8 M179.9,380.2 V383.2 M180.9,307.8 V299.0 M180.9,380.2 V385.5 M181.9,307.8 V304.7 M184.9,307.8 V305.6 M185.9,307.8 V305.7 M186.9,380.2 V382.7 M188.9,307.8 V295.1 M190.9,380.2 V387.3 M191.9,307.8 V300.7 M191.9,380.2 V382.3 M192.9,380.2 V387.9 M196.9,380.2 V383.5 M197.9,307.8 V304.5 M197.9,380.2 V390.3 M198.9,307.8 V305.0 M199.9,307.8 V304.5 M200.9,380.2 V382.7 M201.9,307.8 V295.1 M202.9,307.8 V299.4 M202.9,380.2 V388.2 M203.9,307.8 V305.3 M203.9,380.2 V383.7 M206.9,307.8 V303.7 M207.9,380.2 V388.9 M209.9,307.8 V300.2 M209.9,380.2 V385.2 M210.9,380.2 V382.3 M212.9,380.2 V383.2 M214.9,380.2 V386.6 M216.9,380.2 V383.4 M218.9,380.2 V383.6 M219.9,307.8 V296.9 M220.9,307.8 V296.9 M220.9,380.2 V385.0 M221.9,380.2 V383.5 M222.9,307.8 V304.5 M223.9,307.8 V298.4 M223.9,380.2 V385.0 M224.9,380.2 V384.6 M227.9,307.8 V297.5 M228.9,380.2 V385.3 M230.9,380.2 V389.7 M232.9,380.2 V391.0 M234.9,307.8 V301.8 M234.9,380.2 V388.7 M235.9,380.2 V388.5 M236.9,380.2 V391.0 M237.9,380.2 V382.3 M238.9,380.2 V385.7 M239.9,307.8 V300.8 M239.9,380.2 V389.3 M241.9,307.8 V305.6 M244.9,380.2 V384.2 M245.9,380.2 V384.8 M246.9,380.2 V384.5 M247.9,307.8 V300.4 M249.9,380.2 V384.3 M251.9,307.8 V305.7 M254.9,380.2 V385.0 M255.9,380.2 V388.1 M256.9,307.8 V299.4 M257.9,307.8 V294.9 M258.9,380.2 V382.6 M261.9,307.8 V296.6 M262.9,380.2 V388.0 M263.9,307.8 V300.0 M264.9,380.2 V382.3 M265.9,307.8 V297.5 M265.9,380.2 V382.4 M266.9,307.8 V301.9 M269.9,380.2 V391.6 M270.9,307.8 V300.6 M270.9,380.2 V389.5 M271.9,307.8 V303.0 M271.9,380.2 V390.1 M273.9,307.8 V305.1 M276.9,307.8 V300.8 M276.9,380.2 V385.7 M279.9,307.8 V297.8 M282.9,307.8 V304.4 M283.9,307.8 V303.0 M283.9,380.2 V383.0 M284.9,307.8 V305.7 M285.9,307.8 V302.6 M288.9,307.8 V303.4 M290.9,307.8 V305.6 M291.9,307.8 V302.0 M292.9,307.8 V295.3 M292.9,380.2 V383.3 M293.9,307.8 V301.9 M294.9,380.2 V382.3 M295.9,307.8 V300.8 M297.9,380.2 V383.3 M298.9,380.2 V391.4 M299.9,380.2 V382.3 M300.9,307.8 V304.0 M300.9,380.2 V385.0 M302.9,307.8 V304.4 M303.9,307.8 V299.0 M304.9,380.2 V384.3 M306.9,307.8 V305.5 M306.9,380.2 V390.4 M307.9,307.8 V305.4 M309.9,307.8 V303.2 M309.9,380.2 V382.3 M311.9,307.8 V296.7 M312.9,380.2 V383.0 M315.9,380.2 V386.5 M316.9,307.8 V301.9 M316.9,380.2 V382.5 M317.9,307.8 V304.1 M317.9,380.2 V388.0 M318.9,307.8 V305.4 M322.9,307.8 V304.8 M323.9,307.8 V301.8 M323.9,380.2 V384.9 M325.9,307.8 V304.4 M326.9,380.2 V390.2 M330.9,380.2 V385.3 M331.9,380.2 V389.1 M333.9,307.8 V302.5 M334.9,307.8 V297.5 M334.9,380.2 V384.0 M335.9,307.8 V304.8 M335.9,380.2 V382.8 M337.9,307.8 V305.6 M337.9,380.2 V391.2 M338.9,307.8 V299.8 M338.9,380.2 V383.0 M339.9,307.8 V299.7 M339.9,380.2 V390.2 M340.9,380.2 V383.1 M342.9,307.8 V303.8 M347.9,380.2 V383.9 M348.9,380.2 V389.9 M350.9,307.8 V298.7 M351.9,307.8 V297.1 M352.9,307.8 V305.6 M352.9,380.2 V386.8 M353.9,380.2 V382.3 M354.9,380.2 V385.0 M357.9,307.8 V305.2 M358.9,380.2 V385.7 M359.9,307.8 V303.1 M359.9,380.2 V383.5 M360.9,307.8 V305.5 M361.9,307.8 V299.3 M362.9,380.2 V390.4 M363.9,307.8 V300.1 M364.9,307.8 V302.7 M365.9,307.8 V301.7 M365.9,380.2 V383.2 M367.9,380.2 V382.7 M368.9,380.2 V384.4 M374.9,307.8 V302.7 M375.9,307.8 V300.8 M375.9,380.2 V383.0 M376.9,307.8 V305.6 M376.9,380.2 V383.2 M377.9,380.2 V384.4 M379.9,307.8 V304.8 M380.9,307.8 V304.6 M381.9,380.2 V386.2 M382.9,380.2 V383.5 M383.9,307.8 V296.8 M383.9,380.2 V384.1 M384.9,307.8 V299.6 M385.9,307.8 V297.1 M386.9,307.8 V296.2 M386.9,380.2 V389.1 M387.9,307.8 V302.6 M389.9,380.2 V384.8 M390.9,307.8 V294.8 M391.9,307.8 V303.6 M392.9,307.8 V297.8" stroke="#b3d9d9" stroke-width="1.0" stroke-opacity="0.9" fill="none"/>
<path d="M73.4,342.25 L73.4,341.30 L74.4,341.30 L74.4,340.34 L75.4,340.34 L75.4,339.82 L76.4,339.82 L76.4,338.42 L77.4,338.42 L77.4,336.99 L78.4,336.99 L78.4,336.26 L79.4,336.26 L79.4,335.68 L81.4,335.68 L81.4,335.16 L82.4,335.16 L82.4,335.26 L83.4,335.26 L83.4,332.91 L85.4,332.91 L85.4,332.86 L86.4,332.86 L86.4,330.66 L88.4,330.66 L88.4,330.91 L89.4,330.91 L89.4,331.92 L91.4,331.92 L91.4,329.28 L93.4,329.28 L93.4,328.76 L94.4,328.76 L94.4,326.18 L95.4,326.18 L95.4,326.29 L97.4,326.29 L97.4,325.44 L98.4,325.44 L98.4,326.54 L99.4,326.54 L99.4,325.57 L101.4,325.57 L101.4,324.21 L103.4,324.21 L103.4,323.91 L104.4,323.91 L104.4,322.65 L105.4,322.65 L105.4,323.96 L106.4,323.96 L106.4,324.17 L107.4,324.17 L107.4,323.01 L109.4,323.01 L109.4,319.41 L110.4,319.41 L110.4,319.35 L111.4,319.35 L111.4,320.68 L112.4,320.68 L112.4,321.89 L113.4,321.89 L113.4,318.51 L115.4,318.51 L115.4,319.97 L116.4,319.97 L116.4,316.65 L117.4,316.65 L117.4,318.84 L118.4,318.84 L118.4,317.13 L119.4,317.13 L119.4,316.36 L120.4,316.36 L120.4,317.31 L121.4,317.31 L121.4,318.05 L123.4,318.05 L123.4,320.80 L124.4,320.80 L124.4,319.41 L126.4,319.41 L126.4,324.01 L127.4,324.01 L127.4,324.13 L128.4,324.13 L128.4,321.92 L130.4,321.92 L130.4,324.39 L131.4,324.39 L131.4,324.58 L132.4,324.58 L132.4,324.65 L133.4,324.65 L133.4,326.73 L134.4,326.73 L134.4,327.53 L135.4,327.53 L135.4,329.37 L137.4,329.37 L137.4,330.01 L138.4,330.01 L138.4,329.71 L139.4,329.71 L139.4,331.76 L140.4,331.76 L140.4,331.39 L141.4,331.39 L141.4,332.66 L143.4,332.66 L143.4,333.18 L144.4,333.18 L144.4,333.59 L145.4,333.59 L145.4,334.77 L146.4,334.77 L146.4,336.76 L147.4,336.76 L147.4,336.32 L148.4,336.32 L148.4,338.05 L149.4,338.05 L149.4,339.25 L150.4,339.25 L150.4,341.04 L152.4,341.04 L152.4,341.85 L154.4,341.85 L154.4,341.22 L155.4,341.22 L155.4,340.64 L156.4,340.64 L156.4,339.43 L158.4,339.43 L158.4,338.31 L159.4,338.31 L159.4,338.04 L160.4,338.04 L160.4,336.55 L161.4,336.55 L161.4,335.76 L162.4,335.76 L162.4,335.48 L163.4,335.48 L163.4,333.96 L164.4,333.96 L164.4,334.18 L165.4,334.18 L165.4,331.81 L167.4,331.81 L167.4,332.33 L169.4,332.33 L169.4,329.05 L170.4,329.05 L170.4,329.36 L171.4,329.36 L171.4,328.00 L172.4,328.00 L172.4,327.00 L173.4,327.00 L173.4,326.34 L174.4,326.34 L174.4,326.74 L176.4,326.74 L176.4,325.14 L177.4,325.14 L177.4,324.30 L178.4,324.30 L178.4,321.71 L180.4,321.71 L180.4,321.89 L181.4,321.89 L181.4,321.20 L182.4,321.20 L182.4,319.53 L184.4,319.53 L184.4,321.73 L186.4,321.73 L186.4,318.85 L188.4,318.85 L188.4,317.39 L190.4,317.39 L190.4,320.66 L191.4,320.66 L191.4,318.77 L192.4,318.77 L192.4,317.03 L193.4,317.03 L193.4,319.36 L194.4,319.36 L194.4,315.70 L195.4,315.70 L195.4,317.39 L196.4,317.39 L196.4,319.67 L197.4,319.67 L197.4,316.82 L198.4,316.82 L198.4,317.79 L200.4,317.79 L200.4,319.48 L201.4,319.48 L201.4,320.51 L202.4,320.51 L202.4,321.48 L203.4,321.48 L203.4,320.97 L204.4,320.97 L204.4,319.86 L206.4,319.86 L206.4,323.44 L207.4,323.44 L207.4,322.33 L208.4,322.33 L208.4,325.39 L209.4,325.39 L209.4,325.01 L210.4,325.01 L210.4,327.75 L212.4,327.75 L212.4,328.57 L213.4,328.57 L213.4,326.82 L214.4,326.82 L214.4,329.57 L215.4,329.57 L215.4,328.71 L216.4,328.71 L216.4,331.33 L218.4,331.33 L218.4,331.25 L219.4,331.25 L219.4,332.67 L220.4,332.67 L220.4,333.91 L221.4,333.91 L221.4,335.48 L222.4,335.48 L222.4,335.16 L224.4,335.16 L224.4,336.88 L226.4,336.88 L226.4,338.82 L227.4,338.82 L227.4,339.73 L228.4,339.73 L228.4,340.19 L229.4,340.19 L229.4,340.85 L231.4,340.85 L231.4,341.81 L232.4,341.81 L232.4,342.13 L233.4,342.13 L233.4,342.19 L234.4,342.19 L234.4,341.92 L235.4,341.92 L235.4,341.23 L237.4,341.23 L237.4,340.02 L238.4,340.02 L238.4,339.15 L239.4,339.15 L239.4,337.74 L241.4,337.74 L241.4,336.67 L243.4,336.67 L243.4,336.16 L244.4,336.16 L244.4,334.01 L245.4,334.01 L245.4,333.39 L246.4,333.39 L246.4,332.03 L247.4,332.03 L247.4,333.25 L248.4,333.25 L248.4,330.64 L250.4,330.64 L250.4,329.89 L251.4,329.89 L251.4,328.38 L252.4,328.38 L252.4,327.69 L253.4,327.69 L253.4,326.46 L254.4,326.46 L254.4,324.92 L256.4,324.92 L256.4,322.69 L258.4,322.69 L258.4,321.05 L260.4,321.05 L260.4,321.22 L262.4,321.22 L262.4,320.47 L263.4,320.47 L263.4,317.18 L264.4,317.18 L264.4,320.15 L265.4,320.15 L265.4,320.37 L266.4,320.37 L266.4,317.97 L267.4,317.97 L267.4,317.15 L268.4,317.15 L268.4,319.11 L270.4,319.11 L270.4,315.97 L271.4,315.97 L271.4,318.30 L272.4,318.30 L272.4,319.68 L273.4,319.68 L273.4,317.30 L274.4,317.30 L274.4,317.69 L276.4,317.69 L276.4,318.33 L277.4,318.33 L277.4,319.56 L278.4,319.56 L278.4,317.10 L279.4,317.10 L279.4,321.44 L280.4,321.44 L280.4,321.76 L281.4,321.76 L281.4,321.89 L283.4,321.89 L283.4,322.51 L284.4,322.51 L284.4,323.54 L285.4,323.54 L285.4,323.56 L287.4,323.56 L287.4,325.32 L288.4,325.32 L288.4,323.84 L290.4,323.84 L290.4,327.64 L291.4,327.64 L291.4,326.41 L292.4,326.41 L292.4,329.65 L293.4,329.65 L293.4,329.09 L294.4,329.09 L294.4,328.93 L295.4,328.93 L295.4,330.95 L297.4,330.95 L297.4,333.58 L298.4,333.58 L298.4,334.25 L300.4,334.25 L300.4,335.69 L302.4,335.69 L302.4,336.63 L303.4,336.63 L303.4,337.52 L304.4,337.52 L304.4,339.10 L306.4,339.10 L306.4,339.59 L307.4,339.59 L307.4,340.61 L308.4,340.61 L308.4,341.22 L309.4,341.22 L309.4,341.74 L310.4,341.74 L310.4,342.12 L311.4,342.12 L311.4,342.18 L312.4,342.18 L312.4,341.85 L313.4,341.85 L313.4,341.09 L315.4,341.09 L315.4,340.51 L316.4,340.51 L316.4,339.40 L318.4,339.40 L318.4,337.50 L320.4,337.50 L320.4,336.12 L322.4,336.12 L322.4,335.25 L324.4,335.25 L324.4,332.82 L325.4,332.82 L325.4,331.52 L327.4,331.52 L327.4,330.34 L328.4,330.34 L328.4,327.67 L330.4,327.67 L330.4,327.35 L331.4,327.35 L331.4,326.29 L332.4,326.29 L332.4,327.87 L333.4,327.87 L333.4,326.99 L334.4,326.99 L334.4,325.82 L336.4,325.82 L336.4,322.08 L337.4,322.08 L337.4,324.21 L338.4,324.21 L338.4,319.95 L339.4,319.95 L339.4,321.98 L341.4,321.98 L341.4,320.48 L343.4,320.48 L343.4,318.04 L345.4,318.04 L345.4,318.06 L346.4,318.06 L346.4,317.18 L347.4,317.18 L347.4,315.67 L348.4,315.67 L348.4,317.24 L349.4,317.24 L349.4,315.07 L351.4,315.07 L351.4,318.69 L352.4,318.69 L352.4,318.00 L353.4,318.00 L353.4,318.11 L354.4,318.11 L354.4,319.50 L355.4,319.50 L355.4,319.18 L357.4,319.18 L357.4,318.33 L359.4,318.33 L359.4,318.57 L360.4,318.57 L360.4,317.52 L362.4,317.52 L362.4,320.29 L363.4,320.29 L363.4,320.78 L364.4,320.78 L364.4,322.74 L366.4,322.74 L366.4,324.30 L367.4,324.30 L367.4,322.63 L368.4,322.63 L368.4,325.87 L370.4,325.87 L370.4,325.40 L371.4,325.40 L371.4,326.98 L372.4,326.98 L372.4,327.62 L373.4,327.62 L373.4,327.36 L374.4,327.36 L374.4,329.35 L375.4,329.35 L375.4,330.67 L376.4,330.67 L376.4,331.46 L377.4,331.46 L377.4,330.08 L378.4,330.08 L378.4,332.72 L380.4,332.72 L380.4,334.01 L381.4,334.01 L381.4,335.64 L383.4,335.64 L383.4,337.20 L384.4,337.20 L384.4,337.23 L385.4,337.23 L385.4,338.38 L386.4,338.38 L386.4,338.54 L388.4,338.54 L388.4,340.38 L390.4,340.38 L390.4,341.09 L391.4,341.09 L391.4,341.80 L392.4,341.80 L392.4,342.13 L393.4,342.13 L393.4,342.24 L393.7,342.24 L393.7,342.25 L393.7,342.26 L393.4,342.26 L393.4,342.42 L392.4,342.42 L392.4,342.71 L391.4,342.71 L391.4,343.26 L390.4,343.26 L390.4,343.65 L389.4,343.65 L389.4,344.49 L388.4,344.49 L388.4,345.03 L386.4,345.03 L386.4,346.37 L384.4,346.37 L384.4,347.94 L383.4,347.94 L383.4,349.57 L382.4,349.57 L382.4,350.34 L381.4,350.34 L381.4,349.78 L380.4,349.78 L380.4,351.56 L378.4,351.56 L378.4,352.11 L377.4,352.11 L377.4,354.55 L376.4,354.55 L376.4,354.23 L375.4,354.23 L375.4,356.41 L373.4,356.41 L373.4,356.66 L372.4,356.66 L372.4,358.60 L371.4,358.60 L371.4,357.40 L370.4,357.40 L370.4,357.64 L369.4,357.64 L369.4,362.17 L368.4,362.17 L368.4,362.55 L367.4,362.55 L367.4,361.82 L366.4,361.82 L366.4,362.12 L364.4,362.12 L364.4,364.37 L362.4,364.37 L362.4,362.37 L361.4,362.37 L361.4,365.24 L359.4,365.24 L359.4,364.08 L358.4,364.08 L358.4,367.09 L356.4,367.09 L356.4,364.39 L354.4,364.39 L354.4,365.28 L353.4,365.28 L353.4,366.61 L351.4,366.61 L351.4,363.95 L350.4,363.95 L350.4,364.92 L349.4,364.92 L349.4,366.26 L348.4,366.26 L348.4,367.44 L347.4,367.44 L347.4,367.40 L346.4,367.40 L346.4,364.96 L345.4,364.96 L345.4,364.60 L344.4,364.60 L344.4,365.72 L343.4,365.72 L343.4,363.02 L342.4,363.02 L342.4,363.38 L341.4,363.38 L341.4,362.10 L340.4,362.10 L340.4,362.31 L339.4,362.31 L339.4,361.66 L338.4,361.66 L338.4,362.19 L337.4,362.19 L337.4,359.48 L335.4,359.48 L335.4,360.45 L334.4,360.45 L334.4,359.49 L333.4,359.49 L333.4,358.00 L332.4,358.00 L332.4,357.32 L331.4,357.32 L331.4,355.71 L329.4,355.71 L329.4,353.50 L328.4,353.50 L328.4,354.31 L327.4,354.31 L327.4,351.60 L326.4,351.60 L326.4,351.15 L324.4,351.15 L324.4,350.23 L323.4,350.23 L323.4,349.35 L321.4,349.35 L321.4,348.51 L320.4,348.51 L320.4,346.82 L319.4,346.82 L319.4,346.49 L317.4,346.49 L317.4,344.59 L316.4,344.59 L316.4,343.96 L315.4,343.96 L315.4,343.38 L314.4,343.38 L314.4,343.15 L313.4,343.15 L313.4,342.48 L311.4,342.48 L311.4,342.37 L310.4,342.37 L310.4,342.70 L309.4,342.70 L309.4,343.06 L308.4,343.06 L308.4,343.94 L307.4,343.94 L307.4,344.74 L306.4,344.74 L306.4,345.74 L304.4,345.74 L304.4,347.00 L303.4,347.00 L303.4,347.56 L302.4,347.56 L302.4,348.62 L301.4,348.62 L301.4,349.28 L300.4,349.28 L300.4,350.08 L299.4,350.08 L299.4,350.16 L298.4,350.16 L298.4,352.07 L296.4,352.07 L296.4,352.79 L295.4,352.79 L295.4,354.86 L294.4,354.86 L294.4,354.53 L293.4,354.53 L293.4,355.61 L291.4,355.61 L291.4,357.03 L290.4,357.03 L290.4,358.70 L288.4,358.70 L288.4,360.97 L286.4,360.97 L286.4,362.82 L285.4,362.82 L285.4,362.13 L284.4,362.13 L284.4,365.04 L283.4,365.04 L283.4,362.11 L282.4,362.11 L282.4,365.69 L280.4,365.69 L280.4,364.50 L279.4,364.50 L279.4,364.68 L278.4,364.68 L278.4,367.05 L276.4,367.05 L276.4,365.64 L275.4,365.64 L275.4,368.40 L273.4,368.40 L273.4,365.53 L271.4,365.53 L271.4,366.56 L270.4,366.56 L270.4,367.65 L268.4,367.65 L268.4,364.40 L266.4,364.40 L266.4,363.20 L265.4,363.20 L265.4,367.00 L263.4,367.00 L263.4,365.91 L262.4,365.91 L262.4,362.17 L261.4,362.17 L261.4,362.70 L260.4,362.70 L260.4,361.65 L259.4,361.65 L259.4,362.03 L258.4,362.03 L258.4,362.43 L257.4,362.43 L257.4,360.95 L256.4,360.95 L256.4,359.17 L254.4,359.17 L254.4,356.07 L253.4,356.07 L253.4,358.65 L252.4,358.65 L252.4,356.45 L250.4,356.45 L250.4,354.25 L248.4,354.25 L248.4,351.93 L246.4,351.93 L246.4,351.17 L245.4,351.17 L245.4,350.10 L244.4,350.10 L244.4,349.63 L243.4,349.63 L243.4,347.47 L242.4,347.47 L242.4,347.25 L241.4,347.25 L241.4,346.31 L240.4,346.31 L240.4,345.96 L239.4,345.96 L239.4,345.17 L238.4,345.17 L238.4,344.58 L237.4,344.58 L237.4,343.54 L236.4,343.54 L236.4,342.77 L234.4,342.77 L234.4,342.32 L233.4,342.32 L233.4,342.53 L231.4,342.53 L231.4,343.27 L230.4,343.27 L230.4,343.70 L229.4,343.70 L229.4,344.13 L228.4,344.13 L228.4,344.60 L227.4,344.60 L227.4,345.84 L226.4,345.84 L226.4,346.56 L224.4,346.56 L224.4,347.77 L223.4,347.77 L223.4,349.49 L222.4,349.49 L222.4,349.98 L221.4,349.98 L221.4,350.40 L220.4,350.40 L220.4,350.89 L219.4,350.89 L219.4,352.56 L218.4,352.56 L218.4,353.54 L217.4,353.54 L217.4,354.26 L215.4,354.26 L215.4,356.91 L214.4,356.91 L214.4,355.56 L213.4,355.56 L213.4,357.30 L212.4,357.30 L212.4,357.94 L211.4,357.94 L211.4,358.90 L210.4,358.90 L210.4,360.09 L208.4,360.09 L208.4,359.57 L207.4,359.57 L207.4,360.49 L206.4,360.49 L206.4,360.65 L205.4,360.65 L205.4,364.81 L204.4,364.81 L204.4,362.27 L203.4,362.27 L203.4,363.42 L202.4,363.42 L202.4,363.94 L200.4,363.94 L200.4,366.79 L199.4,366.79 L199.4,367.14 L198.4,367.14 L198.4,366.45 L197.4,366.45 L197.4,365.53 L196.4,365.53 L196.4,365.21 L194.4,365.21 L194.4,368.73 L193.4,368.73 L193.4,369.10 L192.4,369.10 L192.4,365.72 L191.4,365.72 L191.4,365.60 L190.4,365.60 L190.4,366.17 L188.4,366.17 L188.4,368.56 L186.4,368.56 L186.4,365.77 L185.4,365.77 L185.4,364.48 L184.4,364.48 L184.4,362.84 L183.4,362.84 L183.4,365.72 L182.4,365.72 L182.4,363.79 L181.4,363.79 L181.4,361.53 L179.4,361.53 L179.4,362.95 L177.4,362.95 L177.4,361.65 L176.4,361.65 L176.4,359.96 L175.4,359.96 L175.4,358.43 L174.4,358.43 L174.4,357.93 L173.4,357.93 L173.4,356.99 L172.4,356.99 L172.4,355.97 L170.4,355.97 L170.4,354.37 L169.4,354.37 L169.4,353.62 L168.4,353.62 L168.4,352.15 L167.4,352.15 L167.4,352.61 L166.4,352.61 L166.4,351.28 L165.4,351.28 L165.4,350.79 L164.4,350.79 L164.4,350.51 L163.4,350.51 L163.4,349.24 L162.4,349.24 L162.4,347.84 L161.4,347.84 L161.4,346.96 L160.4,346.96 L160.4,345.87 L158.4,345.87 L158.4,344.65 L157.4,344.65 L157.4,344.78 L156.4,344.78 L156.4,344.14 L155.4,344.14 L155.4,343.41 L154.4,343.41 L154.4,342.84 L153.4,342.84 L153.4,342.31 L151.4,342.31 L151.4,344.73 L149.4,344.73 L149.4,345.95 L148.4,345.95 L148.4,347.18 L147.4,347.18 L147.4,348.74 L146.4,348.74 L146.4,350.35 L145.4,350.35 L145.4,350.77 L144.4,350.77 L144.4,351.26 L143.4,351.26 L143.4,351.93 L142.4,351.93 L142.4,353.14 L141.4,353.14 L141.4,353.12 L140.4,353.12 L140.4,353.40 L139.4,353.40 L139.4,354.11 L138.4,354.11 L138.4,355.43 L137.4,355.43 L137.4,355.64 L135.4,355.64 L135.4,356.71 L134.4,356.71 L134.4,358.90 L133.4,358.90 L133.4,359.86 L132.4,359.86 L132.4,358.58 L131.4,358.58 L131.4,358.09 L130.4,358.09 L130.4,359.02 L128.4,359.02 L128.4,362.74 L126.4,362.74 L126.4,361.65 L125.4,361.65 L125.4,363.54 L124.4,363.54 L124.4,364.87 L123.4,364.87 L123.4,362.43 L122.4,362.43 L122.4,367.20 L121.4,367.20 L121.4,365.48 L119.4,365.48 L119.4,369.04 L118.4,369.04 L118.4,369.83 L117.4,369.83 L117.4,366.42 L116.4,366.42 L116.4,368.32 L115.4,368.32 L115.4,364.45 L114.4,364.45 L114.4,364.78 L112.4,364.78 L112.4,365.96 L111.4,365.96 L111.4,364.68 L110.4,364.68 L110.4,365.31 L108.4,365.31 L108.4,363.51 L107.4,363.51 L107.4,362.81 L106.4,362.81 L106.4,363.08 L105.4,363.08 L105.4,362.95 L104.4,362.95 L104.4,362.30 L103.4,362.30 L103.4,360.60 L101.4,360.60 L101.4,358.69 L100.4,358.69 L100.4,359.62 L99.4,359.62 L99.4,357.14 L98.4,357.14 L98.4,357.62 L96.4,357.62 L96.4,357.09 L95.4,357.09 L95.4,358.55 L94.4,358.55 L94.4,354.82 L93.4,354.82 L93.4,356.45 L92.4,356.45 L92.4,356.12 L91.4,356.12 L91.4,354.79 L89.4,354.79 L89.4,355.02 L88.4,355.02 L88.4,352.25 L87.4,352.25 L87.4,352.54 L85.4,352.54 L85.4,350.52 L84.4,350.52 L84.4,350.68 L83.4,350.68 L83.4,350.51 L82.4,350.51 L82.4,349.87 L81.4,349.87 L81.4,348.54 L80.4,348.54 L80.4,348.05 L79.4,348.05 L79.4,347.35 L78.4,347.35 L78.4,346.92 L77.4,346.92 L77.4,345.78 L76.4,345.78 L76.4,345.21 L75.4,345.21 L75.4,343.94 L74.4,343.94 L74.4,343.20 L73.4,343.20 Z" fill="#5aacac"/>
<path d="M379.3,309.6 L127.6,359.8 M379.3,375 L303.7,436 M379.3,309.6 V375" stroke="#808080" stroke-opacity="0.55" stroke-width="1.0" fill="none"/>
<path d="M73.4,342.25 L73.4,340.79 L73.9,340.90 L74.4,340.48 L74.9,340.54 L75.4,340.77 L75.9,340.88 L76.4,340.81 L76.9,340.76 L77.4,340.68 L77.9,340.90 L78.4,340.79 L78.9,340.94 L79.4,340.53 L79.9,340.64 L80.4,340.75 L80.9,340.96 L81.4,340.75 L81.9,340.83 L82.4,340.74 L82.9,340.72 L83.4,340.88 L83.9,340.71 L84.4,340.96 L84.9,340.56 L85.4,340.47 L85.9,340.95 L86.4,340.59 L86.9,340.87 L87.4,340.80 L87.9,340.45 L88.4,340.90 L88.9,340.58 L89.4,340.55 L89.9,340.74 L90.4,340.93 L90.9,340.96 L91.4,341.00 L91.9,340.90 L92.4,340.50 L92.9,340.44 L93.4,340.99 L93.9,340.79 L94.4,340.65 L94.9,340.87 L95.4,340.86 L95.9,340.88 L96.4,340.80 L96.9,340.70 L97.4,340.88 L97.9,340.99 L98.4,340.57 L98.9,340.91 L99.4,340.74 L99.9,340.83 L100.4,340.66 L100.9,340.38 L101.4,340.44 L101.9,340.58 L102.4,340.85 L102.9,340.99 L103.4,340.98 L103.9,340.98 L104.4,340.78 L104.9,340.86 L105.4,340.62 L105.9,340.63 L106.4,340.37 L106.9,340.29 L107.4,340.95 L107.9,340.56 L108.4,340.85 L108.9,340.75 L109.4,341.00 L109.9,340.74 L110.4,340.64 L110.9,340.73 L111.4,340.77 L111.9,340.92 L112.4,340.67 L112.9,340.58 L113.4,340.90 L113.9,340.57 L114.4,340.88 L114.9,340.47 L115.4,340.79 L115.9,340.93 L116.4,340.28 L116.9,340.69 L117.4,340.73 L117.9,340.83 L118.4,340.99 L118.9,340.97 L119.4,340.55 L119.9,340.72 L120.4,340.84 L120.9,340.52 L121.4,340.85 L121.9,340.86 L122.4,340.87 L122.9,340.68 L123.4,340.89 L123.9,340.69 L124.4,340.95 L124.9,340.81 L125.4,340.84 L125.9,340.89 L126.4,340.53 L126.9,340.70 L127.4,340.95 L127.9,340.71 L128.4,340.40 L128.9,340.50 L129.4,340.36 L129.9,340.74 L130.4,340.69 L130.9,340.83 L131.4,340.99 L131.9,340.96 L132.4,340.77 L132.9,340.91 L133.4,340.88 L133.9,340.96 L134.4,340.34 L134.9,340.88 L135.4,340.59 L135.9,340.88 L136.4,340.96 L136.9,340.82 L137.4,340.85 L137.9,340.66 L138.4,340.92 L138.9,340.69 L139.4,340.07 L139.9,340.83 L140.4,340.41 L140.9,340.45 L141.4,340.76 L141.9,340.79 L142.4,340.42 L142.9,340.74 L143.4,340.86 L143.9,340.76 L144.4,340.78 L144.9,340.51 L145.4,340.64 L145.9,340.57 L146.4,340.67 L146.9,340.74 L147.4,340.60 L147.9,340.65 L148.4,340.71 L148.9,340.94 L149.4,340.90 L149.9,340.74 L150.4,340.79 L150.9,340.61 L151.4,340.85 L151.9,340.99 L152.4,340.72 L152.9,340.92 L153.4,340.46 L153.9,340.82 L154.4,340.99 L154.9,340.60 L155.4,340.80 L155.9,340.74 L156.4,340.67 L156.9,340.88 L157.4,340.85 L157.9,340.95 L158.4,340.99 L158.9,340.62 L159.4,340.75 L159.9,340.57 L160.4,340.99 L160.9,340.97 L161.4,340.79 L161.9,340.93 L162.4,340.80 L162.9,340.86 L163.4,340.46 L163.9,340.98 L164.4,340.81 L164.9,340.87 L165.4,340.68 L165.9,340.86 L166.4,340.70 L166.9,340.67 L167.4,340.80 L167.9,340.85 L168.4,340.88 L168.9,340.65 L169.4,340.98 L169.9,340.48 L170.4,340.85 L170.9,340.84 L171.4,340.84 L171.9,340.96 L172.4,340.94 L172.9,340.76 L173.4,340.96 L173.9,340.85 L174.4,340.78 L174.9,340.97 L175.4,340.90 L175.9,340.91 L176.4,340.86 L176.9,340.90 L177.4,340.68 L177.9,340.76 L178.4,340.87 L178.9,340.60 L179.4,340.97 L179.9,340.95 L180.4,340.68 L180.9,340.87 L181.4,340.92 L181.9,340.79 L182.4,340.84 L182.9,340.94 L183.4,340.50 L183.9,340.57 L184.4,340.83 L184.9,340.93 L185.4,340.70 L185.9,340.85 L186.4,341.00 L186.9,340.95 L187.4,340.83 L187.9,340.98 L188.4,340.93 L188.9,340.92 L189.4,340.59 L189.9,340.91 L190.4,340.49 L190.9,340.70 L191.4,340.51 L191.9,340.75 L192.4,340.85 L192.9,340.89 L193.4,340.81 L193.9,340.93 L194.4,340.76 L194.9,340.56 L195.4,340.56 L195.9,340.73 L196.4,340.59 L196.9,340.58 L197.4,340.64 L197.9,340.62 L198.4,340.93 L198.9,340.97 L199.4,340.80 L199.9,340.98 L200.4,340.82 L200.9,340.99 L201.4,340.72 L201.9,340.66 L202.4,340.91 L202.9,340.92 L203.4,340.97 L203.9,340.91 L204.4,340.65 L204.9,340.89 L205.4,340.95 L205.9,340.73 L206.4,340.37 L206.9,340.69 L207.4,340.72 L207.9,340.93 L208.4,340.40 L208.9,340.75 L209.4,340.53 L209.9,340.69 L210.4,340.94 L210.9,340.92 L211.4,340.69 L211.9,340.77 L212.4,340.66 L212.9,340.84 L213.4,340.84 L213.9,340.68 L214.4,340.84 L214.9,340.80 L215.4,340.56 L215.9,340.78 L216.4,340.95 L216.9,340.79 L217.4,340.75 L217.9,340.58 L218.4,340.96 L218.9,340.63 L219.4,340.98 L219.9,340.78 L220.4,340.61 L220.9,340.86 L221.4,340.74 L221.9,340.98 L222.4,340.62 L222.9,341.00 L223.4,340.85 L223.9,340.94 L224.4,340.40 L224.9,340.88 L225.4,340.86 L225.9,340.93 L226.4,340.67 L226.9,340.60 L227.4,340.86 L227.9,340.79 L228.4,340.96 L228.9,340.90 L229.4,340.81 L229.9,340.81 L230.4,340.96 L230.9,340.63 L231.4,340.56 L231.9,340.85 L232.4,340.97 L232.9,340.50 L233.4,340.73 L233.9,340.99 L234.4,340.55 L234.9,340.70 L235.4,340.78 L235.9,340.45 L236.4,340.95 L236.9,340.87 L237.4,340.90 L237.9,340.89 L238.4,340.91 L238.9,340.49 L239.4,340.57 L239.9,340.95 L240.4,340.69 L240.9,340.40 L241.4,340.82 L241.9,340.66 L242.4,340.44 L242.9,340.70 L243.4,340.93 L243.9,340.88 L244.4,340.86 L244.9,340.92 L245.4,340.43 L245.9,340.84 L246.4,340.98 L246.9,340.68 L247.4,340.90 L247.9,340.87 L248.4,340.35 L248.9,340.74 L249.4,340.84 L249.9,341.00 L250.4,340.67 L250.9,340.35 L251.4,340.70 L251.9,340.75 L252.4,340.82 L252.9,340.87 L253.4,340.69 L253.9,340.66 L254.4,340.97 L254.9,340.30 L255.4,340.80 L255.9,340.79 L256.4,340.53 L256.9,340.98 L257.4,340.63 L257.9,340.79 L258.4,340.91 L258.9,340.99 L259.4,340.96 L259.9,340.81 L260.4,340.53 L260.9,340.84 L261.4,340.57 L261.9,340.63 L262.4,340.89 L262.9,340.77 L263.4,340.94 L263.9,340.71 L264.4,340.94 L264.9,340.96 L265.4,340.99 L265.9,340.76 L266.4,340.43 L266.9,340.91 L267.4,340.70 L267.9,340.61 L268.4,340.98 L268.9,340.87 L269.4,340.84 L269.9,340.69 L270.4,340.28 L270.9,340.96 L271.4,340.43 L271.9,340.76 L272.4,340.58 L272.9,340.99 L273.4,340.55 L273.9,340.64 L274.4,340.80 L274.9,340.73 L275.4,340.76 L275.9,340.90 L276.4,340.94 L276.9,340.46 L277.4,340.88 L277.9,340.53 L278.4,340.36 L278.9,340.95 L279.4,340.47 L279.9,340.82 L280.4,340.74 L280.9,340.31 L281.4,340.73 L281.9,340.87 L282.4,340.32 L282.9,340.92 L283.4,340.96 L283.9,340.44 L284.4,340.57 L284.9,340.87 L285.4,340.93 L285.9,340.32 L286.4,340.74 L286.9,340.72 L287.4,340.80 L287.9,340.99 L288.4,340.90 L288.9,340.73 L289.4,340.99 L289.9,340.50 L290.4,340.91 L290.9,340.80 L291.4,340.84 L291.9,340.22 L292.4,340.74 L292.9,340.71 L293.4,340.94 L293.9,340.74 L294.4,340.91 L294.9,340.38 L295.4,340.90 L295.9,340.86 L296.4,340.81 L296.9,340.75 L297.4,340.74 L297.9,340.46 L298.4,340.86 L298.9,340.79 L299.4,340.52 L299.9,340.40 L300.4,340.83 L300.9,341.00 L301.4,340.96 L301.9,340.81 L302.4,340.90 L302.9,340.77 L303.4,340.50 L303.9,340.92 L304.4,340.49 L304.9,340.63 L305.4,340.83 L305.9,340.81 L306.4,340.96 L306.9,340.32 L307.4,340.99 L307.9,340.86 L308.4,340.43 L308.9,340.81 L309.4,340.78 L309.9,340.98 L310.4,340.91 L310.9,340.76 L311.4,340.50 L311.9,340.66 L312.4,340.85 L312.9,340.94 L313.4,340.61 L313.9,340.84 L314.4,340.83 L314.9,340.90 L315.4,340.44 L315.9,340.99 L316.4,340.93 L316.9,340.70 L317.4,340.48 L317.9,340.80 L318.4,340.89 L318.9,340.85 L319.4,340.78 L319.9,340.27 L320.4,340.64 L320.9,340.44 L321.4,340.61 L321.9,340.82 L322.4,340.83 L322.9,340.65 L323.4,340.75 L323.9,340.86 L324.4,340.95 L324.9,340.37 L325.4,340.66 L325.9,340.90 L326.4,340.85 L326.9,340.64 L327.4,340.93 L327.9,340.93 L328.4,340.80 L328.9,340.89 L329.4,340.91 L329.9,341.00 L330.4,340.83 L330.9,340.80 L331.4,340.73 L331.9,340.99 L332.4,340.45 L332.9,340.52 L333.4,340.92 L333.9,340.50 L334.4,340.86 L334.9,340.50 L335.4,340.60 L335.9,340.85 L336.4,340.63 L336.9,340.78 L337.4,340.68 L337.9,340.58 L338.4,340.94 L338.9,340.84 L339.4,340.66 L339.9,340.88 L340.4,340.68 L340.9,341.00 L341.4,340.98 L341.9,340.79 L342.4,340.85 L342.9,340.59 L343.4,340.59 L343.9,340.91 L344.4,340.55 L344.9,340.76 L345.4,340.79 L345.9,340.73 L346.4,340.64 L346.9,340.71 L347.4,340.87 L347.9,340.78 L348.4,340.83 L348.9,340.90 L349.4,340.92 L349.9,340.66 L350.4,340.96 L350.9,340.69 L351.4,339.78 L351.9,340.80 L352.4,340.99 L352.9,340.68 L353.4,340.70 L353.9,340.49 L354.4,340.74 L354.9,340.91 L355.4,340.62 L355.9,340.55 L356.4,340.69 L356.9,340.82 L357.4,340.82 L357.9,340.59 L358.4,340.56 L358.9,340.88 L359.4,340.83 L359.9,340.91 L360.4,340.93 L360.9,340.82 L361.4,340.91 L361.9,340.54 L362.4,340.99 L362.9,340.57 L363.4,340.62 L363.9,340.85 L364.4,340.89 L364.9,340.60 L365.4,340.48 L365.9,340.54 L366.4,340.86 L366.9,340.94 L367.4,340.65 L367.9,340.73 L368.4,340.82 L368.9,340.90 L369.4,340.30 L369.9,340.88 L370.4,340.95 L370.9,340.89 L371.4,340.70 L371.9,340.81 L372.4,340.66 L372.9,340.95 L373.4,340.58 L373.9,340.76 L374.4,340.60 L374.9,340.59 L375.4,340.78 L375.9,340.69 L376.4,340.85 L376.9,340.77 L377.4,340.91 L377.9,340.65 L378.4,340.77 L378.9,340.38 L379.4,340.40 L379.9,340.79 L380.4,340.82 L380.9,340.72 L381.4,340.92 L381.9,340.61 L382.4,340.83 L382.9,340.84 L383.4,340.76 L383.9,340.78 L384.4,340.57 L384.9,340.64 L385.4,340.76 L385.9,340.88 L386.4,340.64 L386.9,340.66 L387.4,340.82 L387.9,340.85 L388.4,340.63 L388.9,340.94 L389.4,340.34 L389.9,340.61 L390.4,340.89 L390.9,340.74 L391.4,340.64 L391.9,340.75 L392.4,340.77 L392.9,340.87 L393.4,340.82 L393.7,342.25 L393.4,343.68 L392.9,343.63 L392.4,343.73 L391.9,343.75 L391.4,343.86 L390.9,343.76 L390.4,343.61 L389.9,343.89 L389.4,344.16 L388.9,343.56 L388.4,343.87 L387.9,343.65 L387.4,343.68 L386.9,343.84 L386.4,343.86 L385.9,343.62 L385.4,343.74 L384.9,343.86 L384.4,343.93 L383.9,343.72 L383.4,343.74 L382.9,343.66 L382.4,343.67 L381.9,343.89 L381.4,343.58 L380.9,343.78 L380.4,343.68 L379.9,343.71 L379.4,344.10 L378.9,344.12 L378.4,343.73 L377.9,343.85 L377.4,343.59 L376.9,343.73 L376.4,343.65 L375.9,343.81 L375.4,343.72 L374.9,343.91 L374.4,343.90 L373.9,343.74 L373.4,343.92 L372.9,343.55 L372.4,343.84 L371.9,343.69 L371.4,343.80 L370.9,343.61 L370.4,343.55 L369.9,343.62 L369.4,344.20 L368.9,343.60 L368.4,343.68 L367.9,343.77 L367.4,343.85 L366.9,343.56 L366.4,343.64 L365.9,343.96 L365.4,344.02 L364.9,343.90 L364.4,343.61 L363.9,343.65 L363.4,343.88 L362.9,343.93 L362.4,343.51 L361.9,343.96 L361.4,343.59 L360.9,343.68 L360.4,343.57 L359.9,343.59 L359.4,343.67 L358.9,343.62 L358.4,343.94 L357.9,343.91 L357.4,343.68 L356.9,343.68 L356.4,343.81 L355.9,343.95 L355.4,343.88 L354.9,343.59 L354.4,343.76 L353.9,344.01 L353.4,343.80 L352.9,343.82 L352.4,343.51 L351.9,343.70 L351.4,344.72 L350.9,343.81 L350.4,343.54 L349.9,343.84 L349.4,343.58 L348.9,343.60 L348.4,343.67 L347.9,343.72 L347.4,343.63 L346.9,343.79 L346.4,343.86 L345.9,343.77 L345.4,343.71 L344.9,343.74 L344.4,343.95 L343.9,343.59 L343.4,343.91 L342.9,343.91 L342.4,343.65 L341.9,343.71 L341.4,343.52 L340.9,343.50 L340.4,343.82 L339.9,343.62 L339.4,343.84 L338.9,343.66 L338.4,343.56 L337.9,343.92 L337.4,343.82 L336.9,343.72 L336.4,343.87 L335.9,343.65 L335.4,343.90 L334.9,344.00 L334.4,343.64 L333.9,344.00 L333.4,343.58 L332.9,343.98 L332.4,344.05 L331.9,343.51 L331.4,343.77 L330.9,343.70 L330.4,343.67 L329.9,343.50 L329.4,343.59 L328.9,343.61 L328.4,343.70 L327.9,343.57 L327.4,343.57 L326.9,343.86 L326.4,343.65 L325.9,343.60 L325.4,343.84 L324.9,344.13 L324.4,343.55 L323.9,343.64 L323.4,343.75 L322.9,343.85 L322.4,343.67 L321.9,343.68 L321.4,343.89 L320.9,344.06 L320.4,343.86 L319.9,344.23 L319.4,343.72 L318.9,343.65 L318.4,343.61 L317.9,343.70 L317.4,344.02 L316.9,343.80 L316.4,343.57 L315.9,343.51 L315.4,344.06 L314.9,343.60 L314.4,343.67 L313.9,343.66 L313.4,343.89 L312.9,343.56 L312.4,343.65 L311.9,343.84 L311.4,344.00 L310.9,343.74 L310.4,343.59 L309.9,343.52 L309.4,343.72 L308.9,343.69 L308.4,344.07 L307.9,343.64 L307.4,343.51 L306.9,344.18 L306.4,343.54 L305.9,343.69 L305.4,343.67 L304.9,343.87 L304.4,344.01 L303.9,343.58 L303.4,344.00 L302.9,343.73 L302.4,343.60 L301.9,343.69 L301.4,343.54 L300.9,343.50 L300.4,343.67 L299.9,344.10 L299.4,343.98 L298.9,343.71 L298.4,343.64 L297.9,344.04 L297.4,343.76 L296.9,343.75 L296.4,343.69 L295.9,343.64 L295.4,343.60 L294.9,344.12 L294.4,343.59 L293.9,343.76 L293.4,343.56 L292.9,343.79 L292.4,343.76 L291.9,344.28 L291.4,343.66 L290.9,343.70 L290.4,343.59 L289.9,344.00 L289.4,343.51 L288.9,343.77 L288.4,343.60 L287.9,343.51 L287.4,343.70 L286.9,343.78 L286.4,343.76 L285.9,344.18 L285.4,343.57 L284.9,343.63 L284.4,343.93 L283.9,344.06 L283.4,343.54 L282.9,343.58 L282.4,344.18 L281.9,343.63 L281.4,343.77 L280.9,344.19 L280.4,343.76 L279.9,343.68 L279.4,344.03 L278.9,343.55 L278.4,344.14 L277.9,343.97 L277.4,343.62 L276.9,344.04 L276.4,343.56 L275.9,343.60 L275.4,343.74 L274.9,343.77 L274.4,343.70 L273.9,343.86 L273.4,343.95 L272.9,343.51 L272.4,343.92 L271.9,343.74 L271.4,344.07 L270.9,343.54 L270.4,344.22 L269.9,343.81 L269.4,343.66 L268.9,343.63 L268.4,343.52 L267.9,343.89 L267.4,343.80 L266.9,343.59 L266.4,344.07 L265.9,343.74 L265.4,343.51 L264.9,343.54 L264.4,343.56 L263.9,343.79 L263.4,343.56 L262.9,343.73 L262.4,343.61 L261.9,343.87 L261.4,343.93 L260.9,343.66 L260.4,343.97 L259.9,343.69 L259.4,343.54 L258.9,343.51 L258.4,343.59 L257.9,343.71 L257.4,343.87 L256.9,343.52 L256.4,343.97 L255.9,343.71 L255.4,343.70 L254.9,344.20 L254.4,343.53 L253.9,343.84 L253.4,343.81 L252.9,343.63 L252.4,343.68 L251.9,343.75 L251.4,343.80 L250.9,344.15 L250.4,343.83 L249.9,343.50 L249.4,343.66 L248.9,343.76 L248.4,344.15 L247.9,343.63 L247.4,343.60 L246.9,343.82 L246.4,343.52 L245.9,343.66 L245.4,344.07 L244.9,343.58 L244.4,343.64 L243.9,343.62 L243.4,343.57 L242.9,343.80 L242.4,344.06 L241.9,343.84 L241.4,343.68 L240.9,344.10 L240.4,343.81 L239.9,343.55 L239.4,343.93 L238.9,344.01 L238.4,343.59 L237.9,343.61 L237.4,343.60 L236.9,343.63 L236.4,343.55 L235.9,344.05 L235.4,343.72 L234.9,343.80 L234.4,343.95 L233.9,343.51 L233.4,343.77 L232.9,344.00 L232.4,343.53 L231.9,343.65 L231.4,343.94 L230.9,343.87 L230.4,343.54 L229.9,343.69 L229.4,343.69 L228.9,343.60 L228.4,343.54 L227.9,343.71 L227.4,343.64 L226.9,343.90 L226.4,343.83 L225.9,343.57 L225.4,343.64 L224.9,343.62 L224.4,344.10 L223.9,343.56 L223.4,343.65 L222.9,343.50 L222.4,343.88 L221.9,343.52 L221.4,343.76 L220.9,343.64 L220.4,343.89 L219.9,343.72 L219.4,343.52 L218.9,343.87 L218.4,343.54 L217.9,343.92 L217.4,343.75 L216.9,343.71 L216.4,343.55 L215.9,343.72 L215.4,343.94 L214.9,343.70 L214.4,343.66 L213.9,343.82 L213.4,343.66 L212.9,343.66 L212.4,343.84 L211.9,343.73 L211.4,343.81 L210.9,343.58 L210.4,343.56 L209.9,343.81 L209.4,343.97 L208.9,343.75 L208.4,344.10 L207.9,343.57 L207.4,343.78 L206.9,343.81 L206.4,344.13 L205.9,343.77 L205.4,343.55 L204.9,343.61 L204.4,343.85 L203.9,343.59 L203.4,343.53 L202.9,343.58 L202.4,343.59 L201.9,343.84 L201.4,343.78 L200.9,343.51 L200.4,343.68 L199.9,343.52 L199.4,343.70 L198.9,343.53 L198.4,343.57 L197.9,343.88 L197.4,343.86 L196.9,343.92 L196.4,343.91 L195.9,343.77 L195.4,343.94 L194.9,343.94 L194.4,343.74 L193.9,343.57 L193.4,343.69 L192.9,343.61 L192.4,343.65 L191.9,343.75 L191.4,343.99 L190.9,343.80 L190.4,344.01 L189.9,343.59 L189.4,343.91 L188.9,343.58 L188.4,343.57 L187.9,343.52 L187.4,343.67 L186.9,343.55 L186.4,343.50 L185.9,343.65 L185.4,343.80 L184.9,343.57 L184.4,343.67 L183.9,343.93 L183.4,344.00 L182.9,343.56 L182.4,343.66 L181.9,343.71 L181.4,343.58 L180.9,343.63 L180.4,343.82 L179.9,343.55 L179.4,343.53 L178.9,343.90 L178.4,343.63 L177.9,343.74 L177.4,343.82 L176.9,343.60 L176.4,343.64 L175.9,343.59 L175.4,343.60 L174.9,343.53 L174.4,343.72 L173.9,343.65 L173.4,343.54 L172.9,343.74 L172.4,343.56 L171.9,343.54 L171.4,343.66 L170.9,343.66 L170.4,343.65 L169.9,344.02 L169.4,343.52 L168.9,343.85 L168.4,343.62 L167.9,343.65 L167.4,343.70 L166.9,343.83 L166.4,343.80 L165.9,343.64 L165.4,343.82 L164.9,343.63 L164.4,343.69 L163.9,343.52 L163.4,344.04 L162.9,343.64 L162.4,343.70 L161.9,343.57 L161.4,343.71 L160.9,343.53 L160.4,343.51 L159.9,343.93 L159.4,343.75 L158.9,343.88 L158.4,343.51 L157.9,343.55 L157.4,343.65 L156.9,343.62 L156.4,343.83 L155.9,343.76 L155.4,343.70 L154.9,343.90 L154.4,343.51 L153.9,343.68 L153.4,344.04 L152.9,343.58 L152.4,343.78 L151.9,343.51 L151.4,343.65 L150.9,343.89 L150.4,343.71 L149.9,343.76 L149.4,343.60 L148.9,343.56 L148.4,343.79 L147.9,343.85 L147.4,343.90 L146.9,343.76 L146.4,343.83 L145.9,343.93 L145.4,343.86 L144.9,343.99 L144.4,343.72 L143.9,343.74 L143.4,343.64 L142.9,343.76 L142.4,344.08 L141.9,343.71 L141.4,343.74 L140.9,344.05 L140.4,344.09 L139.9,343.67 L139.4,344.43 L138.9,343.81 L138.4,343.58 L137.9,343.84 L137.4,343.65 L136.9,343.68 L136.4,343.54 L135.9,343.62 L135.4,343.91 L134.9,343.62 L134.4,344.16 L133.9,343.54 L133.4,343.62 L132.9,343.59 L132.4,343.73 L131.9,343.54 L131.4,343.51 L130.9,343.67 L130.4,343.81 L129.9,343.76 L129.4,344.14 L128.9,344.00 L128.4,344.10 L127.9,343.79 L127.4,343.55 L126.9,343.80 L126.4,343.97 L125.9,343.61 L125.4,343.66 L124.9,343.69 L124.4,343.55 L123.9,343.81 L123.4,343.61 L122.9,343.82 L122.4,343.63 L121.9,343.64 L121.4,343.65 L120.9,343.98 L120.4,343.66 L119.9,343.78 L119.4,343.95 L118.9,343.53 L118.4,343.51 L117.9,343.67 L117.4,343.77 L116.9,343.81 L116.4,344.22 L115.9,343.57 L115.4,343.71 L114.9,344.03 L114.4,343.62 L113.9,343.93 L113.4,343.60 L112.9,343.92 L112.4,343.83 L111.9,343.58 L111.4,343.73 L110.9,343.77 L110.4,343.86 L109.9,343.76 L109.4,343.50 L108.9,343.75 L108.4,343.65 L107.9,343.94 L107.4,343.55 L106.9,344.21 L106.4,344.13 L105.9,343.87 L105.4,343.88 L104.9,343.64 L104.4,343.72 L103.9,343.52 L103.4,343.52 L102.9,343.51 L102.4,343.65 L101.9,343.92 L101.4,344.06 L100.9,344.12 L100.4,343.84 L99.9,343.67 L99.4,343.76 L98.9,343.59 L98.4,343.93 L97.9,343.51 L97.4,343.62 L96.9,343.80 L96.4,343.70 L95.9,343.62 L95.4,343.64 L94.9,343.63 L94.4,343.85 L93.9,343.71 L93.4,343.51 L92.9,344.06 L92.4,344.00 L91.9,343.60 L91.4,343.50 L90.9,343.54 L90.4,343.57 L89.9,343.76 L89.4,343.95 L88.9,343.92 L88.4,343.60 L87.9,344.05 L87.4,343.70 L86.9,343.63 L86.4,343.91 L85.9,343.55 L85.4,344.03 L84.9,343.94 L84.4,343.54 L83.9,343.79 L83.4,343.62 L82.9,343.78 L82.4,343.76 L81.9,343.67 L81.4,343.75 L80.9,343.54 L80.4,343.75 L79.9,343.86 L79.4,343.97 L78.9,343.56 L78.4,343.71 L77.9,343.60 L77.4,343.82 L76.9,343.74 L76.4,343.69 L75.9,343.62 L75.4,343.73 L74.9,343.96 L74.4,344.02 L73.9,343.60 L73.4,343.71 Z" fill="#d62728"/>
<path d="M73.6,338.2 h1.4 V346.3 h-1.4 Z M81.9,340.0 h1.0 V344.5 h-1.0 Z M86.0,338.4 h1.3 V346.4 h-1.3 Z M86.1,339.5 h1.7 V345.0 h-1.7 Z M89.6,337.5 h0.9 V346.4 h-0.9 Z M91.1,337.7 h1.2 V346.2 h-1.2 Z M97.6,339.2 h0.7 V345.0 h-0.7 Z M98.5,340.0 h1.0 V344.2 h-1.0 Z M100.5,338.8 h1.4 V345.8 h-1.4 Z M104.0,339.5 h1.1 V344.6 h-1.1 Z M107.2,339.0 h1.2 V345.0 h-1.2 Z M115.2,337.8 h1.5 V346.9 h-1.5 Z M115.6,339.8 h1.5 V344.7 h-1.5 Z M117.1,339.3 h1.4 V344.9 h-1.4 Z M122.4,338.9 h1.7 V345.1 h-1.7 Z M123.2,337.1 h1.4 V346.4 h-1.4 Z M125.6,336.9 h0.9 V346.7 h-0.9 Z M125.7,336.8 h1.5 V347.9 h-1.5 Z M126.6,338.3 h1.1 V346.4 h-1.1 Z M130.8,338.6 h0.8 V346.1 h-0.8 Z M131.6,336.9 h1.4 V348.1 h-1.4 Z M133.9,339.0 h1.3 V345.0 h-1.3 Z M135.6,337.5 h1.4 V347.3 h-1.4 Z M139.2,338.9 h1.0 V345.1 h-1.0 Z M140.0,337.5 h1.7 V346.6 h-1.7 Z M140.9,337.1 h1.6 V347.6 h-1.6 Z M143.2,338.1 h1.1 V346.7 h-1.1 Z M143.6,339.9 h1.2 V344.2 h-1.2 Z M143.7,337.8 h1.6 V346.4 h-1.6 Z M144.5,337.5 h1.0 V346.7 h-1.0 Z M144.9,336.8 h1.4 V346.8 h-1.4 Z M145.5,336.8 h1.8 V346.9 h-1.8 Z M154.4,338.7 h1.4 V345.9 h-1.4 Z M160.2,338.4 h0.9 V346.1 h-0.9 Z M163.5,337.6 h1.3 V346.1 h-1.3 Z M164.0,338.0 h0.7 V346.2 h-0.7 Z M167.3,339.7 h1.8 V344.6 h-1.8 Z M170.0,337.0 h1.3 V347.3 h-1.3 Z M171.2,339.0 h1.4 V345.4 h-1.4 Z M171.6,338.5 h1.3 V346.0 h-1.3 Z M173.2,337.6 h1.3 V346.1 h-1.3 Z M174.2,337.8 h1.4 V346.4 h-1.4 Z M174.4,337.3 h1.7 V347.6 h-1.7 Z M177.3,337.2 h1.7 V347.1 h-1.7 Z M181.2,339.7 h1.6 V344.4 h-1.6 Z M181.5,337.9 h1.3 V346.5 h-1.3 Z M183.0,339.7 h1.6 V344.5 h-1.6 Z M185.4,340.0 h1.5 V344.5 h-1.5 Z M185.9,336.8 h1.3 V346.8 h-1.3 Z M191.4,336.8 h1.2 V348.0 h-1.2 Z M191.8,337.2 h1.4 V346.7 h-1.4 Z M195.0,339.4 h1.0 V344.8 h-1.0 Z M199.4,339.3 h1.8 V345.0 h-1.8 Z M204.1,336.8 h1.5 V347.6 h-1.5 Z M212.2,337.9 h0.8 V346.0 h-0.8 Z M218.1,339.6 h1.4 V345.0 h-1.4 Z M221.6,339.8 h1.2 V344.9 h-1.2 Z M225.5,339.8 h1.7 V344.7 h-1.7 Z M230.2,338.0 h1.3 V346.7 h-1.3 Z M238.4,337.2 h0.9 V346.5 h-0.9 Z M238.4,339.1 h1.0 V345.5 h-1.0 Z M243.8,337.4 h1.1 V347.4 h-1.1 Z M244.1,337.2 h1.4 V346.7 h-1.4 Z M250.4,337.3 h0.7 V346.4 h-0.7 Z M253.8,339.7 h1.3 V344.6 h-1.3 Z M255.0,338.1 h0.8 V346.2 h-0.8 Z M256.4,338.7 h1.6 V345.1 h-1.6 Z M259.6,339.7 h1.2 V344.5 h-1.2 Z M261.1,339.0 h0.7 V345.1 h-0.7 Z M263.7,339.5 h1.4 V344.4 h-1.4 Z M265.0,339.5 h1.0 V344.9 h-1.0 Z M269.5,338.5 h1.6 V346.1 h-1.6 Z M272.8,337.4 h1.4 V346.7 h-1.4 Z M273.7,337.6 h1.3 V347.0 h-1.3 Z M274.7,339.9 h1.6 V344.4 h-1.6 Z M281.8,339.9 h1.6 V344.6 h-1.6 Z M285.5,339.0 h0.7 V345.5 h-0.7 Z M285.8,339.9 h1.6 V344.3 h-1.6 Z M287.0,337.0 h0.8 V348.0 h-0.8 Z M289.6,337.3 h0.9 V346.7 h-0.9 Z M292.9,339.8 h1.5 V344.2 h-1.5 Z M297.6,337.4 h1.1 V346.7 h-1.1 Z M298.1,339.5 h1.2 V344.5 h-1.2 Z M298.2,339.2 h1.1 V345.0 h-1.1 Z M301.6,337.7 h1.6 V346.2 h-1.6 Z M307.5,338.3 h1.5 V345.7 h-1.5 Z M308.8,339.1 h1.2 V345.6 h-1.2 Z M312.0,337.1 h1.4 V347.3 h-1.4 Z M314.1,337.0 h1.1 V346.5 h-1.1 Z M314.9,337.2 h1.4 V347.5 h-1.4 Z M320.1,338.8 h1.5 V345.1 h-1.5 Z M326.8,337.4 h0.8 V346.3 h-0.8 Z M326.8,339.5 h1.8 V344.9 h-1.8 Z M327.0,340.0 h1.8 V344.5 h-1.8 Z M329.1,340.0 h1.0 V344.1 h-1.0 Z M329.6,338.3 h1.5 V346.5 h-1.5 Z M333.2,339.4 h1.4 V344.7 h-1.4 Z M340.9,338.6 h1.7 V346.0 h-1.7 Z M349.6,339.4 h1.0 V345.2 h-1.0 Z M350.4,339.0 h0.8 V344.9 h-0.8 Z M355.4,337.3 h1.0 V346.6 h-1.0 Z M371.8,337.3 h1.2 V347.1 h-1.2 Z M375.7,339.8 h0.8 V344.5 h-0.8 Z M383.2,337.7 h1.7 V346.7 h-1.7 Z M383.4,337.9 h1.7 V346.6 h-1.7 Z M386.5,338.0 h1.0 V346.5 h-1.0 Z M392.3,337.6 h0.8 V347.2 h-0.8 Z" fill="#d62728"/>
<path d="M82.4,290.4 V395.0 M84.6,328.0 V356.0 M90.4,335.0 V349.6 M101.2,334.4 V351.0 M105.2,330.0 V354.0 M107.2,328.0 V357.5 M112.0,336.6 V348.0 M115.6,335.0 V348.0 M117.8,312.0 V387.8 M122.5,272.8 V409.5 M127.4,330.4 V354.0 M132.7,331.3 V353.0 M135.8,334.0 V350.0 M146.6,320.2 V364.0 M148.3,335.0 V350.0 M153.5,288.5 V396.0 M156.9,315.5 V369.0 M158.2,326.7 V358.0 M162.8,327.6 V357.0 M167.5,330.4 V354.0 M172.1,323.9 V361.0 M187.1,332.3 V349.4 M191.4,334.1 V352.3 M201.6,315.5 V369.0 M207.6,327.6 V351.6 M216.9,315.5 V369.0 M218.4,331.3 V353.0 M233.7,330.4 V353.0 M246.4,297.8 V387.0 M252.0,335.0 V350.0 M256.6,331.3 V353.0 M260.4,290.4 V394.0 M270.0,337.0 V348.0 M275.6,325.8 V359.0 M283.0,327.6 V357.0 M295.8,326.7 V358.0 M298.0,327.6 V357.0 M302.7,329.5 V354.0 M310.1,319.2 V366.0 M319.4,305.3 V380.0 M323.5,327.6 V355.8 M335.3,331.3 V352.1 M344.3,309.0 V376.3 M352.7,333.2 V351.2 M357.3,331.3 V353.0 M364.4,280.5 V402.4 M366.6,327.6 V355.8 M371.3,322.0 V361.4 M376.3,327.6 V351.2 M384.7,335.0 V349.3 M391.2,332.3 V352.1" stroke="#d62728" stroke-width="1.35" stroke-opacity="0.85" fill="none"/>
</g>
<rect x="63.8" y="252.8" width="133.9" height="57.7" rx="2.5" fill="#fff" fill-opacity="0.8" stroke="#d0d0d0" stroke-width="0.9"/>
<path d="M68.6,262.4 H95.5" stroke="#b3d9d9" stroke-width="1.5"/>
<path d="M68.6,280.7 H95.5" stroke="#80c0c0" stroke-width="1.5"/>
<path d="M68.6,299 H95.5" stroke="#d62728" stroke-width="1.5"/>
<text transform="matrix(0.13657 0 0 0.14328 105.454 267.457)" style="font-family:'Liberation Serif', serif;font-size:100px;" fill="#000" stroke="#fff" stroke-width="0.858" >Gaussian</text>
<text transform="matrix(0.13652 0 0 0.14176 105.454 286.252)" style="font-family:'Liberation Serif', serif;font-size:100px;" fill="#000" stroke="#fff" stroke-width="0.862" >Cyclostationary</text>
<text transform="matrix(0.14016 0 0 0.13684 105.580 303.563)" style="font-family:'Liberation Serif', serif;font-size:100px;" fill="#000" stroke="#fff" stroke-width="0.866" >Bursts</text>
<rect x="127.6" y="359.8" width="176.1" height="76.19999999999999" fill="#fff"/>
<g clip-path="url(#cins)">
<rect x="135.5" y="359.8" width="160.8" height="76.19999999999999" fill="#c6e3e3"/>
<path d="M162.8,437.0 V434.3 M283.2,437.0 V423.4 M151.9,437.0 V432.0 M172.5,437.0 V428.3 M273.0,437.0 V428.4 M230.2,437.0 V434.6 M189.5,437.0 V416.2 M264.7,437.0 V435.8 M239.6,437.0 V430.7 M154.5,437.0 V430.9 M172.8,437.0 V435.8 M265.8,437.0 V433.5 M265.9,437.0 V417.9 M147.4,437.0 V424.5 M219.4,437.0 V435.9 M250.2,437.0 V430.6 M187.8,437.0 V426.7 M145.6,437.0 V433.5 M202.6,437.0 V432.4 M285.8,437.0 V434.8 M252.9,437.0 V434.0 M169.8,437.0 V421.7 M271.3,437.0 V429.7 M242.8,437.0 V430.2 M182.2,437.0 V433.6 M178.7,437.0 V429.0 M164.0,437.0 V434.4 M200.6,437.0 V431.1 M193.4,437.0 V421.8 M181.4,437.0 V434.3 M276.0,437.0 V429.0 M257.9,437.0 V435.9 M214.7,437.0 V423.8 M290.3,437.0 V432.0 M243.8,437.0 V424.6 M288.6,437.0 V434.6 M268.1,437.0 V435.2 M237.5,437.0 V404.4 M247.0,437.0 V419.3 M260.1,437.0 V432.2 M257.3,437.0 V428.2 M276.0,437.0 V433.9 M190.2,437.0 V429.7 M193.9,437.0 V422.0 M175.2,437.0 V427.2 M283.7,437.0 V428.5 M280.8,437.0 V409.9 M206.6,437.0 V431.5 M200.0,437.0 V434.0 M156.8,437.0 V435.4 M292.3,437.0 V426.6 M243.5,437.0 V431.8 M290.4,437.0 V420.0 M237.2,437.0 V434.8 M218.1,437.0 V411.0 M255.9,437.0 V431.6 M278.1,437.0 V420.4 M271.4,437.0 V434.6 M191.1,437.0 V432.8 M217.0,437.0 V434.1 M287.4,437.0 V428.8 M216.9,437.0 V423.7 M264.5,437.0 V433.0 M219.9,437.0 V429.4 M269.4,437.0 V434.2 M146.5,437.0 V418.2 M135.7,437.0 V432.1 M150.1,437.0 V429.4 M205.6,437.0 V433.6 M194.6,437.0 V430.1 M289.7,437.0 V425.7 M295.8,437.0 V431.2 M157.1,437.0 V420.5 M269.7,437.0 V431.4 M217.4,437.0 V432.4 M270.8,437.0 V427.3 M194.9,437.0 V413.0 M259.7,437.0 V423.2 M136.2,437.0 V415.8 M210.7,437.0 V431.5 M189.0,437.0 V428.0 M176.0,437.0 V430.8 M183.8,437.0 V390.1 M202.9,437.0 V407.1 M215.2,437.0 V431.5 M219.9,437.0 V426.7 M253.6,437.0 V428.3 M268.5,437.0 V432.1 M290.1,437.0 V434.6 M243.1,437.0 V423.8 M136.2,358.8 V402.6 M242.3,358.8 V360.5 M145.4,358.8 V382.6 M242.9,358.8 V366.8 M139.8,358.8 V363.3 M200.4,358.8 V369.0 M274.9,358.8 V363.3 M184.8,358.8 V363.6 M291.3,358.8 V366.5 M211.3,358.8 V363.1 M164.8,358.8 V362.3 M286.0,358.8 V362.9 M160.5,358.8 V364.4 M231.0,358.8 V361.4 M287.1,358.8 V362.8 M286.8,358.8 V376.0 M224.8,358.8 V363.2 M169.6,358.8 V364.7 M216.0,358.8 V365.0 M182.5,358.8 V366.8 M186.0,358.8 V366.4 M186.6,358.8 V361.6 M167.9,358.8 V364.9 M141.7,358.8 V370.7 M256.2,358.8 V378.1 M137.6,358.8 V361.0 M227.7,358.8 V360.0 M194.5,358.8 V369.7 M240.0,358.8 V363.9 M228.9,358.8 V360.7 M212.5,358.8 V407.8 M260.5,358.8 V362.6 M227.5,358.8 V367.8 M280.0,358.8 V378.6 M229.6,358.8 V384.4 M276.4,358.8 V360.6 M274.4,358.8 V362.1 M249.1,358.8 V363.0 M188.4,358.8 V361.6 M213.7,358.8 V382.1 M148.2,358.8 V367.4 M252.1,358.8 V361.9 M239.4,358.8 V363.1 M267.1,358.8 V368.6 M149.1,358.8 V372.0 M156.2,358.8 V359.9 M239.4,358.8 V382.4 M253.2,358.8 V361.8 M147.4,358.8 V363.1 M140.4,358.8 V361.5 M187.7,358.8 V370.4 M190.1,358.8 V369.6 M143.9,358.8 V365.7 M151.2,358.8 V363.5 M168.3,358.8 V377.3 M137.8,358.8 V411.5 M159.3,358.8 V367.0 M139.6,358.8 V364.1 M195.0,358.8 V365.2 M255.9,358.8 V363.1 M241.9,358.8 V364.5 M232.7,358.8 V361.5 M210.7,358.8 V366.2 M165.6,358.8 V376.0 M143.3,358.8 V374.8 M165.3,358.8 V361.9 M287.8,358.8 V374.3 M266.4,358.8 V359.9 M227.1,358.8 V367.9 M234.1,358.8 V360.2 M255.3,358.8 V360.6 M267.7,358.8 V363.6 M174.3,358.8 V374.1 M264.5,358.8 V365.5 M239.7,358.8 V362.4 M180.2,358.8 V368.9 M181.8,358.8 V362.1 M163.1,358.8 V362.0 M223.5,358.8 V362.3 M291.3,358.8 V365.2 M262.5,358.8 V377.8 M162.3,358.8 V363.4 M154.8,358.8 V364.0 M180.8,358.8 V360.0 M161.9,358.8 V375.3 M158.4,358.8 V360.7 M253.2,358.8 V366.6 M186.1,358.8 V376.4 M226.4,358.8 V361.9 M186.2,358.8 V375.5 M192.1,359.8 V436.0 M138.4,359.8 V436.0 M153.2,359.8 V436.0 M256.0,359.8 V436.0 M156.2,359.8 V436.0 M144.9,359.8 V436.0 M166.9,359.8 V436.0 M292.7,359.8 V436.0 M207.0,359.8 V436.0 M159.3,359.8 V436.0 M241.4,359.8 V436.0 M196.2,359.8 V436.0 M224.4,359.8 V436.0 M295.7,359.8 V436.0 M247.9,359.8 V436.0 M221.5,359.8 V436.0 M296.0,359.8 V436.0 M216.8,359.8 V436.0 M208.3,359.8 V436.0 M272.3,359.8 V436.0 M289.6,359.8 V436.0 M251.2,359.8 V436.0 M194.2,359.8 V436.0 M200.2,359.8 V436.0 M136.9,359.8 V436.0" stroke="#fff" stroke-width="0.7" stroke-opacity="0.65" fill="none"/>
<path d="M135.50,406.69 L135.90,407.66 L136.30,407.70 L136.70,406.79 L137.10,405.04 L137.50,402.59 L137.90,399.69 L138.30,396.60 L138.70,393.61 L139.10,391.00 L139.50,389.03 L139.90,387.87 L140.30,387.63 L140.70,388.34 L141.10,389.92 L141.50,392.24 L141.90,395.07 L142.30,398.15 L142.70,401.18 L143.10,403.89 L143.50,406.01 L143.90,407.36 L144.30,407.80 L144.70,407.29 L145.10,405.88 L145.50,403.70 L145.90,400.96 L146.30,397.91 L146.70,394.85 L147.10,392.05 L147.50,389.78 L147.90,388.25 L148.30,387.61 L148.70,387.92 L149.10,389.15 L149.50,391.18 L149.90,393.82 L150.30,396.83 L150.70,399.91 L151.10,402.79 L151.50,405.20 L151.90,406.89 L152.30,407.73 L152.70,407.62 L153.10,406.58 L153.50,404.71 L153.90,402.18 L154.30,399.23 L154.70,396.13 L155.10,393.19 L155.50,390.66 L155.90,388.80 L156.30,387.77 L156.70,387.68 L157.10,388.52 L157.50,390.23 L157.90,392.64 L158.30,395.52 L158.70,398.61 L159.10,401.61 L159.50,404.25 L159.90,406.27 L160.30,407.49 L160.70,407.78 L161.10,407.13 L161.50,405.60 L161.90,403.32 L162.30,400.52 L162.70,397.45 L163.10,394.40 L163.50,391.67 L163.90,389.50 L164.30,388.10 L164.70,387.60 L165.10,388.05 L165.50,389.41 L165.90,391.54 L166.30,394.26 L166.70,397.29 L167.10,400.37 L167.50,403.19 L167.90,405.50 L168.30,407.08 L168.70,407.77 L169.10,407.52 L169.50,406.35 L169.90,404.37 L170.30,401.76 L170.70,398.77 L171.10,395.67 L171.50,392.77 L171.90,390.34 L172.30,388.59 L172.70,387.70 L173.10,387.74 L173.50,388.73 L173.90,390.55 L174.30,393.05 L174.70,395.98 L175.10,399.07 L175.50,402.04 L175.90,404.60 L176.30,406.51 L176.70,407.59 L177.10,407.75 L177.50,406.96 L177.90,405.30 L178.30,402.93 L178.70,400.07 L179.10,396.98 L179.50,393.97 L179.90,391.30 L180.30,389.23 L180.70,387.96 L181.10,387.61 L181.50,388.20 L181.90,389.68 L182.30,391.92 L182.70,394.70 L183.10,397.76 L183.50,400.81 L183.90,403.58 L184.30,405.79 L184.70,407.24 L185.10,407.80 L185.50,407.40 L185.90,406.10 L186.30,404.01 L186.70,401.33 L187.10,398.30 L187.50,395.22 L187.90,392.37 L188.30,390.02 L188.70,388.40 L189.10,387.64 L189.50,387.83 L189.90,388.95 L190.30,390.89 L190.70,393.47 L191.10,396.44 L191.50,399.53 L191.90,402.46 L192.30,404.93 L192.70,406.73 L193.10,407.67 L193.50,407.69 L193.90,406.76 L194.30,404.98 L194.70,402.52 L195.10,399.61 L195.50,396.52 L195.90,393.54 L196.30,390.95 L196.70,388.99 L197.10,387.85 L197.50,387.64 L197.90,388.37 L198.30,389.97 L198.70,392.31 L199.10,395.15 L199.50,398.22 L199.90,401.25 L200.30,403.95 L200.70,406.06 L201.10,407.38 L201.50,407.80 L201.90,407.27 L202.30,405.83 L202.70,403.64 L203.10,400.89 L203.50,397.84 L203.90,394.77 L204.30,391.98 L204.70,389.73 L205.10,388.23 L205.50,387.61 L205.90,387.94 L206.30,389.19 L206.70,391.24 L207.10,393.89 L207.50,396.90 L207.90,399.99 L208.30,402.86 L208.70,405.25 L209.10,406.93 L209.50,407.74 L209.90,407.61 L210.30,406.55 L210.70,404.65 L211.10,402.11 L211.50,399.15 L211.90,396.06 L212.30,393.12 L212.70,390.61 L213.10,388.76 L213.50,387.76 L213.90,387.69 L214.30,388.55 L214.70,390.28 L215.10,392.71 L215.50,395.60 L215.90,398.69 L216.30,401.69 L216.70,404.31 L217.10,406.31 L217.50,407.51 L217.90,407.78 L218.30,407.11 L218.70,405.55 L219.10,403.26 L219.50,400.44 L219.90,397.37 L220.30,394.33 L220.70,391.60 L221.10,389.45 L221.50,388.07 L221.90,387.60 L222.30,388.07 L222.70,389.45 L223.10,391.60 L223.50,394.33 L223.90,397.37 L224.30,400.44 L224.70,403.26 L225.10,405.55 L225.50,407.11 L225.90,407.78 L226.30,407.51 L226.70,406.31 L227.10,404.31 L227.50,401.69 L227.90,398.69 L228.30,395.60 L228.70,392.71 L229.10,390.28 L229.50,388.55 L229.90,387.69 L230.30,387.76 L230.70,388.76 L231.10,390.61 L231.50,393.12 L231.90,396.06 L232.30,399.15 L232.70,402.11 L233.10,404.65 L233.50,406.55 L233.90,407.61 L234.30,407.74 L234.70,406.93 L235.10,405.25 L235.50,402.86 L235.90,399.99 L236.30,396.90 L236.70,393.89 L237.10,391.24 L237.50,389.19 L237.90,387.94 L238.30,387.61 L238.70,388.23 L239.10,389.73 L239.50,391.98 L239.90,394.77 L240.30,397.84 L240.70,400.89 L241.10,403.64 L241.50,405.83 L241.90,407.27 L242.30,407.80 L242.70,407.38 L243.10,406.06 L243.50,403.95 L243.90,401.25 L244.30,398.22 L244.70,395.15 L245.10,392.31 L245.50,389.97 L245.90,388.37 L246.30,387.64 L246.70,387.85 L247.10,388.99 L247.50,390.95 L247.90,393.54 L248.30,396.52 L248.70,399.61 L249.10,402.52 L249.50,404.98 L249.90,406.76 L250.30,407.69 L250.70,407.67 L251.10,406.73 L251.50,404.93 L251.90,402.46 L252.30,399.53 L252.70,396.44 L253.10,393.47 L253.50,390.89 L253.90,388.95 L254.30,387.83 L254.70,387.64 L255.10,388.40 L255.50,390.02 L255.90,392.37 L256.30,395.22 L256.70,398.30 L257.10,401.33 L257.50,404.01 L257.90,406.10 L258.30,407.40 L258.70,407.80 L259.10,407.24 L259.50,405.79 L259.90,403.58 L260.30,400.81 L260.70,397.76 L261.10,394.70 L261.50,391.92 L261.90,389.68 L262.30,388.20 L262.70,387.61 L263.10,387.96 L263.50,389.23 L263.90,391.30 L264.30,393.97 L264.70,396.98 L265.10,400.07 L265.50,402.93 L265.90,405.30 L266.30,406.96 L266.70,407.75 L267.10,407.59 L267.50,406.51 L267.90,404.60 L268.30,402.04 L268.70,399.07 L269.10,395.98 L269.50,393.05 L269.90,390.55 L270.30,388.73 L270.70,387.74 L271.10,387.70 L271.50,388.59 L271.90,390.34 L272.30,392.77 L272.70,395.67 L273.10,398.77 L273.50,401.76 L273.90,404.37 L274.30,406.35 L274.70,407.52 L275.10,407.77 L275.50,407.08 L275.90,405.50 L276.30,403.19 L276.70,400.37 L277.10,397.29 L277.50,394.26 L277.90,391.54 L278.30,389.41 L278.70,388.05 L279.10,387.60 L279.50,388.10 L279.90,389.50 L280.30,391.67 L280.70,394.40 L281.10,397.45 L281.50,400.52 L281.90,403.32 L282.30,405.60 L282.70,407.13 L283.10,407.78 L283.50,407.49 L283.90,406.27 L284.30,404.25 L284.70,401.61 L285.10,398.61 L285.50,395.52 L285.90,392.64 L286.30,390.23 L286.70,388.52 L287.10,387.68 L287.50,387.77 L287.90,388.80 L288.30,390.66 L288.70,393.19 L289.10,396.13 L289.50,399.23 L289.90,402.18 L290.30,404.71 L290.70,406.58 L291.10,407.62 L291.50,407.73 L291.90,406.89 L292.30,405.20 L292.70,402.79 L293.10,399.91 L293.50,396.83 L293.90,393.82 L294.30,391.18 L294.70,389.15 L295.10,387.92 L295.50,387.61 L295.90,388.25 L296.30,389.78 M135.50,407.07 L135.90,406.37 L136.30,405.46 L136.70,404.35 L137.10,403.09 L137.50,401.69 L137.90,400.19 L138.30,398.64 L138.70,397.06 L139.10,395.49 L139.50,393.98 L139.90,392.56 L140.30,391.27 L140.70,390.14 L141.10,389.18 L141.50,388.44 L141.90,387.93 L142.30,387.65 L142.70,387.62 L143.10,387.83 L143.50,388.29 L143.90,388.98 L144.30,389.88 L144.70,390.97 L145.10,392.23 L145.50,393.62 L145.90,395.11 L146.30,396.66 L146.70,398.24 L147.10,399.81 L147.50,401.32 L147.90,402.75 L148.30,404.05 L148.70,405.20 L149.10,406.16 L149.50,406.92 L149.90,407.45 L150.30,407.74 L150.70,407.79 L151.10,407.59 L151.50,407.15 L151.90,406.47 L152.30,405.58 L152.70,404.50 L153.10,403.25 L153.50,401.87 L153.90,400.39 L154.30,398.83 L154.70,397.26 L155.10,395.69 L155.50,394.17 L155.90,392.74 L156.30,391.42 L156.70,390.27 L157.10,389.29 L157.50,388.52 L157.90,387.98 L158.30,387.67 L158.70,387.61 L159.10,387.79 L159.50,388.22 L159.90,388.88 L160.30,389.76 L160.70,390.83 L161.10,392.06 L161.50,393.44 L161.90,394.92 L162.30,396.47 L162.70,398.05 L163.10,399.62 L163.50,401.14 L163.90,402.58 L164.30,403.90 L164.70,405.07 L165.10,406.05 L165.50,406.84 L165.90,407.40 L166.30,407.72 L166.70,407.80 L167.10,407.63 L167.50,407.21 L167.90,406.57 L168.30,405.71 L168.70,404.65 L169.10,403.42 L169.50,402.05 L169.90,400.58 L170.30,399.03 L170.70,397.45 L171.10,395.88 L171.50,394.35 L171.90,392.91 L172.30,391.58 L172.70,390.40 L173.10,389.40 L173.50,388.61 L173.90,388.03 L174.30,387.69 L174.70,387.60 L175.10,387.76 L175.50,388.15 L175.90,388.79 L176.30,389.63 L176.70,390.68 L177.10,391.90 L177.50,393.26 L177.90,394.73 L178.30,396.27 L178.70,397.85 L179.10,399.42 L179.50,400.95 L179.90,402.40 L180.30,403.74 L180.70,404.93 L181.10,405.94 L181.50,406.75 L181.90,407.34 L182.30,407.69 L182.70,407.80 L183.10,407.66 L183.50,407.28 L183.90,406.66 L184.30,405.82 L184.70,404.79 L185.10,403.58 L185.50,402.23 L185.90,400.76 L186.30,399.23 L186.70,397.65 L187.10,396.08 L187.50,394.54 L187.90,393.08 L188.30,391.74 L188.70,390.54 L189.10,389.52 L189.50,388.69 L189.90,388.09 L190.30,387.72 L190.70,387.60 L191.10,387.72 L191.50,388.09 L191.90,388.69 L192.30,389.52 L192.70,390.54 L193.10,391.74 L193.50,393.08 L193.90,394.54 L194.30,396.08 L194.70,397.65 L195.10,399.23 L195.50,400.76 L195.90,402.23 L196.30,403.58 L196.70,404.79 L197.10,405.82 L197.50,406.66 L197.90,407.28 L198.30,407.66 L198.70,407.80 L199.10,407.69 L199.50,407.34 L199.90,406.75 L200.30,405.94 L200.70,404.93 L201.10,403.74 L201.50,402.40 L201.90,400.95 L202.30,399.42 L202.70,397.85 L203.10,396.27 L203.50,394.73 L203.90,393.26 L204.30,391.90 L204.70,390.68 L205.10,389.63 L205.50,388.79 L205.90,388.15 L206.30,387.76 L206.70,387.60 L207.10,387.69 L207.50,388.03 L207.90,388.61 L208.30,389.40 L208.70,390.40 L209.10,391.58 L209.50,392.91 L209.90,394.35 L210.30,395.88 L210.70,397.45 L211.10,399.03 L211.50,400.58 L211.90,402.05 L212.30,403.42 L212.70,404.65 L213.10,405.71 L213.50,406.57 L213.90,407.21 L214.30,407.63 L214.70,407.80 L215.10,407.72 L215.50,407.40 L215.90,406.84 L216.30,406.05 L216.70,405.07 L217.10,403.90 L217.50,402.58 L217.90,401.14 L218.30,399.62 L218.70,398.05 L219.10,396.47 L219.50,394.92 L219.90,393.44 L220.30,392.06 L220.70,390.83 L221.10,389.76 L221.50,388.88 L221.90,388.22 L222.30,387.79 L222.70,387.61 L223.10,387.67 L223.50,387.98 L223.90,388.52 L224.30,389.29 L224.70,390.27 L225.10,391.42 L225.50,392.74 L225.90,394.17 L226.30,395.69 L226.70,397.26 L227.10,398.83 L227.50,400.39 L227.90,401.87 L228.30,403.25 L228.70,404.50 L229.10,405.58 L229.50,406.47 L229.90,407.15 L230.30,407.59 L230.70,407.79 L231.10,407.74 L231.50,407.45 L231.90,406.92 L232.30,406.16 L232.70,405.20 L233.10,404.05 L233.50,402.75 L233.90,401.32 L234.30,399.81 L234.70,398.24 L235.10,396.66 L235.50,395.11 L235.90,393.62 L236.30,392.23 L236.70,390.97 L237.10,389.88 L237.50,388.98 L237.90,388.29 L238.30,387.83 L238.70,387.62 L239.10,387.65 L239.50,387.93 L239.90,388.44 L240.30,389.18 L240.70,390.14 L241.10,391.27 L241.50,392.56 L241.90,393.98 L242.30,395.49 L242.70,397.06 L243.10,398.64 L243.50,400.19 L243.90,401.69 L244.30,403.09 L244.70,404.35 L245.10,405.46 L245.50,406.37 L245.90,407.07 L246.30,407.55 L246.70,407.78 L247.10,407.76 L247.50,407.50 L247.90,407.00 L248.30,406.27 L248.70,405.33 L249.10,404.20 L249.50,402.92 L249.90,401.51 L250.30,400.00 L250.70,398.44 L251.10,396.86 L251.50,395.30 L251.90,393.80 L252.30,392.40 L252.70,391.12 L253.10,390.01 L253.50,389.08 L253.90,388.36 L254.30,387.88 L254.70,387.63 L255.10,387.63 L255.50,387.88 L255.90,388.36 L256.30,389.08 L256.70,390.01 L257.10,391.12 L257.50,392.40 L257.90,393.80 L258.30,395.30 L258.70,396.86 L259.10,398.44 L259.50,400.00 L259.90,401.51 L260.30,402.92 L260.70,404.20 L261.10,405.33 L261.50,406.27 L261.90,407.00 L262.30,407.50 L262.70,407.76 L263.10,407.78 L263.50,407.55 L263.90,407.07 L264.30,406.37 L264.70,405.46 L265.10,404.35 L265.50,403.09 L265.90,401.69 L266.30,400.19 L266.70,398.64 L267.10,397.06 L267.50,395.49 L267.90,393.98 L268.30,392.56 L268.70,391.27 L269.10,390.14 L269.50,389.18 L269.90,388.44 L270.30,387.93 L270.70,387.65 L271.10,387.62 L271.50,387.83 L271.90,388.29 L272.30,388.98 L272.70,389.88 L273.10,390.97 L273.50,392.23 L273.90,393.62 L274.30,395.11 L274.70,396.66 L275.10,398.24 L275.50,399.81 L275.90,401.32 L276.30,402.75 L276.70,404.05 L277.10,405.20 L277.50,406.16 L277.90,406.92 L278.30,407.45 L278.70,407.74 L279.10,407.79 L279.50,407.59 L279.90,407.15 L280.30,406.47 L280.70,405.58 L281.10,404.50 L281.50,403.25 L281.90,401.87 L282.30,400.39 L282.70,398.83 L283.10,397.26 L283.50,395.69 L283.90,394.17 L284.30,392.74 L284.70,391.42 L285.10,390.27 L285.50,389.29 L285.90,388.52 L286.30,387.98 L286.70,387.67 L287.10,387.61 L287.50,387.79 L287.90,388.22 L288.30,388.88 L288.70,389.76 L289.10,390.83 L289.50,392.06 L289.90,393.44 L290.30,394.92 L290.70,396.47 L291.10,398.05 L291.50,399.62 L291.90,401.14 L292.30,402.58 L292.70,403.90 L293.10,405.07 L293.50,406.05 L293.90,406.84 L294.30,407.40 L294.70,407.72 L295.10,407.80 L295.50,407.63 L295.90,407.21 L296.30,406.57" stroke="#000" stroke-width="1.2" fill="none"/>
<path d="M135.5,397.7 H296.3" stroke="#d62728" stroke-width="1.0" fill="none"/>
<path d="M151.50,397.67 V397.73 M151.85,397.61 V397.79 M152.20,397.43 V397.95 M152.55,397.04 V398.31 M152.90,396.43 V398.87 M153.25,395.75 V399.58 M153.60,395.06 V400.33 M153.95,390.15 V405.05 M154.30,389.70 V405.04 M154.65,387.85 V406.75 M155.00,387.66 V407.44 M155.35,381.26 V412.91 M155.70,382.05 V411.69 M156.05,383.90 V411.44 M156.40,387.81 V407.53 M156.75,390.29 V404.77 M157.10,393.53 V401.28 M157.45,395.79 V399.56 M157.80,396.61 V398.74 M158.15,397.17 V398.21 M158.50,395.99 V399.41 M158.85,395.86 V399.54 M159.20,396.23 V399.17 M159.55,394.82 V400.58 M159.90,394.96 V400.44 M160.25,394.02 V401.38 M160.60,395.41 V399.99 M160.95,395.24 V400.16 M161.30,394.34 V401.06 M161.65,394.90 V400.50 M162.00,395.30 V400.10 M162.35,396.20 V399.20 M162.70,396.47 V398.93 M163.05,396.69 V398.71 M163.40,397.12 V398.28 M163.75,397.45 V397.95 M164.10,397.54 V397.86 M164.45,397.62 V397.78 M164.80,397.65 V397.75 M165.15,397.68 V397.72 M165.50,397.68 V397.72 M165.85,397.69 V397.71" stroke="#d62728" stroke-width="0.75" fill="none"/>
</g>
<rect x="127.6" y="359.8" width="176.1" height="76.19999999999999" fill="none" stroke="#000" stroke-width="0.9"/>
<rect x="176.7" y="366.7" width="120" height="20.2" rx="2" fill="#fff" fill-opacity="0.8" stroke="#d8d8d8" stroke-width="0.8"/>
<path d="M180.9,376 H207.9" stroke="#000" stroke-width="1.2"/>
<text transform="matrix(0.13668 0 0 0.14179 217.790 380.758)" style="font-family:'Liberation Serif', serif;font-size:100px;" fill="#000" stroke="#fff" stroke-width="0.862" >Deterministic</text>
<rect x="57.5" y="246.5" width="351.80" height="191.85" fill="none" stroke="#000" stroke-width="0.9"/>
<path d="M73.40,438.35 v3.5 M124.08,438.35 v3.5 M174.76,438.35 v3.5 M225.44,438.35 v3.5 M276.12,438.35 v3.5 M326.80,438.35 v3.5 M377.48,438.35 v3.5 M57.5,246.35 h-3.5 M57.5,294.30 h-3.5 M57.5,342.25 h-3.5 M57.5,390.20 h-3.5 M57.5,438.15 h-3.5" stroke="#000" stroke-width="0.8" fill="none"/>
<text transform="matrix(0.16667 0 0 0.15556 69.333 455.344)" style="font-family:'Liberation Serif', serif;font-size:100px;" fill="#000" stroke="#fff" stroke-width="0.745" >0</text>
<text transform="matrix(0.19718 0 0 0.15909 119.004 455.500)" style="font-family:'Liberation Serif', serif;font-size:100px;" fill="#000" stroke="#fff" stroke-width="0.674" >1</text>
<text transform="matrix(0.17500 0 0 0.15909 170.572 455.500)" style="font-family:'Liberation Serif', serif;font-size:100px;" fill="#000" stroke="#fff" stroke-width="0.718" >2</text>
<text transform="matrix(0.16867 0 0 0.15672 221.281 455.343)" style="font-family:'Liberation Serif', serif;font-size:100px;" fill="#000" stroke="#fff" stroke-width="0.738" >3</text>
<text transform="matrix(0.15054 0 0 0.15909 272.419 455.500)" style="font-family:'Liberation Serif', serif;font-size:100px;" fill="#000" stroke="#fff" stroke-width="0.775" >4</text>
<text transform="matrix(0.17500 0 0 0.15789 322.350 455.342)" style="font-family:'Liberation Serif', serif;font-size:100px;" fill="#000" stroke="#fff" stroke-width="0.721" >5</text>
<text transform="matrix(0.16279 0 0 0.15672 373.429 455.343)" style="font-family:'Liberation Serif', serif;font-size:100px;" fill="#000" stroke="#fff" stroke-width="0.751" >6</text>
<text transform="matrix(0.14426 0 0 0.15852 36.151 252.191)" style="font-family:'Liberation Serif', serif;font-size:100px;" fill="#000" stroke="#fff" stroke-width="0.793" >20</text>
<text transform="matrix(0.14514 0 0 0.15852 36.066 300.141)" style="font-family:'Liberation Serif', serif;font-size:100px;" fill="#000" stroke="#fff" stroke-width="0.790" >10</text>
<text transform="matrix(0.15714 0 0 0.15852 42.771 348.091)" style="font-family:'Liberation Serif', serif;font-size:100px;" fill="#000" stroke="#fff" stroke-width="0.760" >0</text>
<text transform="matrix(0.14857 0 0 0.15852 35.737 396.041)" style="font-family:'Liberation Serif', serif;font-size:100px;" fill="#000" stroke="#fff" stroke-width="0.782" >10</text>
<rect x="26.4" y="391.05" width="8.6" height="0.8" fill="#000"/>
<text transform="matrix(0.14426 0 0 0.15852 36.151 443.991)" style="font-family:'Liberation Serif', serif;font-size:100px;" fill="#000" stroke="#fff" stroke-width="0.793" >20</text>
<rect x="26.4" y="439.00" width="8.6" height="0.8" fill="#000"/>
<text transform="matrix(0.18765 0 0 0.18765 378.099 473.240)" style="font-family:'Liberation Serif', serif;font-size:100px;" fill="#000" stroke="#fff" stroke-width="0.639" >×</text>
<text transform="matrix(0.14971 0 0 0.15704 388.927 471.143)" style="font-family:'Liberation Serif', serif;font-size:100px;" fill="#000" stroke="#fff" stroke-width="0.782" >10</text>
<text transform="matrix(0.10123 0 0 0.11603 403.142 465.800)" style="font-family:'Liberation Serif', serif;font-size:100px;" fill="#000" stroke="#fff" stroke-width="1.105" >7</text>
<text transform="matrix(0.15149 0 0 0.15970 208.697 472.840)" style="font-family:'Liberation Serif', serif;font-size:100px;" fill="#000" stroke="#fff" stroke-width="0.771" >Time</text>
<text transform="matrix(0.13260 0 0 0.17349 243.706 473.558)" style="font-family:'Liberation Serif', serif;font-size:100px;" fill="#000" stroke="#fff" stroke-width="0.784" >[s]</text>
<text transform="matrix(0 -0.15089 0.15495 0 17.569 391.751)" style="font-family:'Liberation Serif', serif;font-size:100px;" fill="#000" stroke="#fff" stroke-width="0.785">Amplitude</text>
<text transform="matrix(0 -0.14184 0.17831 0 18.693 322.564)" style="font-family:'Liberation Serif', serif;font-size:100px;" fill="#000" stroke="#fff" stroke-width="0.750">[a.u.]</text>
</svg></body></html>
